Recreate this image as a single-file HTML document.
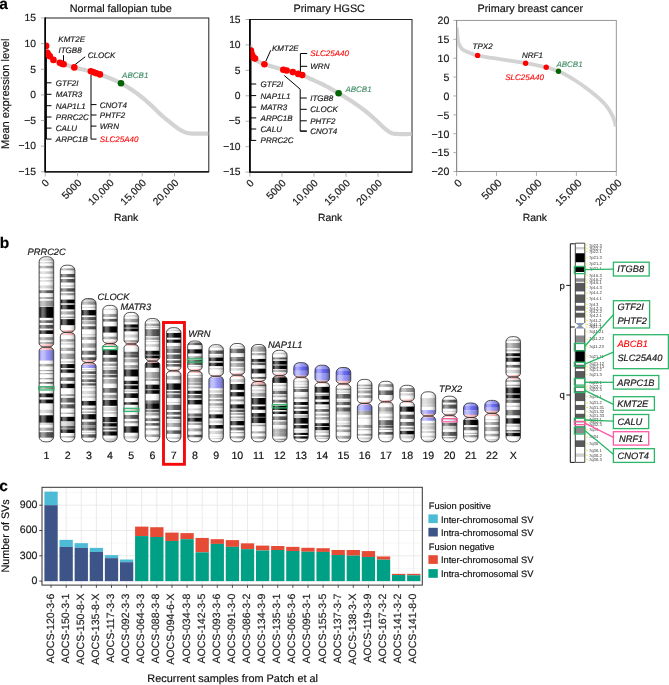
<!DOCTYPE html>
<html><head><meta charset="utf-8"><title>Figure</title>
<style>
html,body{margin:0;padding:0;background:#fff;}
body{width:669px;height:685px;overflow:hidden;}
svg{display:block;text-rendering:geometricPrecision;font-family:"Liberation Sans", Arial, Helvetica, sans-serif;}
</style></head><body>
<svg width="669" height="685" viewBox="0 0 669 685">
<text x="-0.70" y="9.00" text-anchor="start" fill="#000" stroke="#000" style="font-size:15.5px;font-weight:bold;stroke-width:0.18px">a</text>
<text x="-0.30" y="248.10" text-anchor="start" fill="#000" stroke="#000" style="font-size:15.5px;font-weight:bold;stroke-width:0.18px">b</text>
<text x="-0.70" y="490.90" text-anchor="start" fill="#000" stroke="#000" style="font-size:15.5px;font-weight:bold;stroke-width:0.18px">c</text>
<g id="p1">
<rect x="45.20" y="18.00" width="163.60" height="153.80" fill="none" stroke="#222" stroke-width="1.0"/>
<line x1="45.20" y1="17.50" x2="45.20" y2="172.30" stroke="#000" stroke-width="1.2"/>
<line x1="44.70" y1="171.80" x2="208.80" y2="171.80" stroke="#000" stroke-width="1.2"/>
<line x1="40.90" y1="171.80" x2="44.60" y2="171.80" stroke="#b0b0b0" stroke-width="1"/>
<text x="35.90" y="175.05" text-anchor="end" fill="#1a1a1a" stroke="#1a1a1a" style="font-size:10.3px;stroke-width:0.18px">−15</text>
<line x1="40.90" y1="146.17" x2="44.60" y2="146.17" stroke="#b0b0b0" stroke-width="1"/>
<text x="35.90" y="149.42" text-anchor="end" fill="#1a1a1a" stroke="#1a1a1a" style="font-size:10.3px;stroke-width:0.18px">−10</text>
<line x1="40.90" y1="120.53" x2="44.60" y2="120.53" stroke="#b0b0b0" stroke-width="1"/>
<text x="35.90" y="123.78" text-anchor="end" fill="#1a1a1a" stroke="#1a1a1a" style="font-size:10.3px;stroke-width:0.18px">−5</text>
<line x1="40.90" y1="94.90" x2="44.60" y2="94.90" stroke="#b0b0b0" stroke-width="1"/>
<text x="35.90" y="98.15" text-anchor="end" fill="#1a1a1a" stroke="#1a1a1a" style="font-size:10.3px;stroke-width:0.18px">0</text>
<line x1="40.90" y1="69.27" x2="44.60" y2="69.27" stroke="#b0b0b0" stroke-width="1"/>
<text x="35.90" y="72.52" text-anchor="end" fill="#1a1a1a" stroke="#1a1a1a" style="font-size:10.3px;stroke-width:0.18px">5</text>
<line x1="40.90" y1="43.63" x2="44.60" y2="43.63" stroke="#b0b0b0" stroke-width="1"/>
<text x="35.90" y="46.88" text-anchor="end" fill="#1a1a1a" stroke="#1a1a1a" style="font-size:10.3px;stroke-width:0.18px">10</text>
<line x1="40.90" y1="18.00" x2="44.60" y2="18.00" stroke="#b0b0b0" stroke-width="1"/>
<text x="35.90" y="21.25" text-anchor="end" fill="#1a1a1a" stroke="#1a1a1a" style="font-size:10.3px;stroke-width:0.18px">15</text>
<line x1="45.20" y1="172.40" x2="45.20" y2="176.40" stroke="#b0b0b0" stroke-width="1"/>
<text x="49.90" y="183.50" text-anchor="end" fill="#1a1a1a" stroke="#1a1a1a" style="font-size:10.3px;stroke-width:0.18px" transform="rotate(-45 49.90 183.50)">0</text>
<line x1="77.53" y1="172.40" x2="77.53" y2="176.40" stroke="#b0b0b0" stroke-width="1"/>
<text x="82.23" y="183.50" text-anchor="end" fill="#1a1a1a" stroke="#1a1a1a" style="font-size:10.3px;stroke-width:0.18px" transform="rotate(-45 82.23 183.50)">5000</text>
<line x1="109.86" y1="172.40" x2="109.86" y2="176.40" stroke="#b0b0b0" stroke-width="1"/>
<text x="114.56" y="183.50" text-anchor="end" fill="#1a1a1a" stroke="#1a1a1a" style="font-size:10.3px;stroke-width:0.18px" transform="rotate(-45 114.56 183.50)">10,000</text>
<line x1="142.20" y1="172.40" x2="142.20" y2="176.40" stroke="#b0b0b0" stroke-width="1"/>
<text x="146.90" y="183.50" text-anchor="end" fill="#1a1a1a" stroke="#1a1a1a" style="font-size:10.3px;stroke-width:0.18px" transform="rotate(-45 146.90 183.50)">15,000</text>
<line x1="174.53" y1="172.40" x2="174.53" y2="176.40" stroke="#b0b0b0" stroke-width="1"/>
<text x="179.23" y="183.50" text-anchor="end" fill="#1a1a1a" stroke="#1a1a1a" style="font-size:10.3px;stroke-width:0.18px" transform="rotate(-45 179.23 183.50)">20,000</text>
<text x="120.80" y="12.20" text-anchor="middle" fill="#111" stroke="#111" style="font-size:10.8px;stroke-width:0.18px">Normal fallopian tube</text>
<text x="126.10" y="220.90" text-anchor="middle" fill="#111" stroke="#111" style="font-size:10.4px;stroke-width:0.18px">Rank</text>
<clipPath id="c1"><rect x="45.20" y="18.00" width="163.60" height="153.80"/></clipPath>
<text x="9.50" y="93.80" text-anchor="middle" fill="#111" stroke="#111" style="font-size:11.1px;stroke-width:0.18px" transform="rotate(-90 9.50 93.80)">Mean expression level</text>
<g clip-path="url(#c1)">
<path d="M45.60,43.50 L45.64,43.84 L45.69,44.29 L45.75,44.81 L45.82,45.41 L45.90,46.04 L45.99,46.70 L46.09,47.36 L46.20,48.00 L46.32,48.65 L46.45,49.35 L46.58,50.08 L46.73,50.81 L46.89,51.54 L47.07,52.24 L47.28,52.90 L47.50,53.50 L47.74,54.03 L48.01,54.52 L48.28,54.97 L48.58,55.39 L48.90,55.79 L49.24,56.19 L49.61,56.59 L50.00,57.00 L50.41,57.43 L50.85,57.86 L51.30,58.28 L51.78,58.71 L52.29,59.12 L52.82,59.53 L53.39,59.92 L54.00,60.30 L54.65,60.66 L55.36,61.01 L56.10,61.35 L56.88,61.68 L57.66,62.00 L58.45,62.31 L59.24,62.61 L60.00,62.90 L60.73,63.18 L61.45,63.43 L62.15,63.67 L62.86,63.91 L63.58,64.14 L64.34,64.38 L65.14,64.63 L66.00,64.90 L66.92,65.19 L67.88,65.49 L68.88,65.81 L69.92,66.13 L70.98,66.45 L72.07,66.77 L73.18,67.09 L74.30,67.40 L75.46,67.71 L76.69,68.02 L77.95,68.34 L79.23,68.65 L80.50,68.96 L81.73,69.25 L82.91,69.53 L84.00,69.80 L84.99,70.04 L85.89,70.24 L86.73,70.43 L87.54,70.61 L88.35,70.79 L89.17,70.99 L90.05,71.23 L91.00,71.50 L92.02,71.82 L93.09,72.16 L94.18,72.54 L95.31,72.93 L96.46,73.34 L97.63,73.76 L98.81,74.18 L100.00,74.60 L101.20,75.02 L102.41,75.43 L103.63,75.84 L104.88,76.27 L106.13,76.71 L107.41,77.18 L108.70,77.67 L110.00,78.20 L111.31,78.75 L112.63,79.32 L113.96,79.91 L115.30,80.53 L116.67,81.17 L118.07,81.87 L119.51,82.61 L121.00,83.40 L122.54,84.24 L124.12,85.12 L125.74,86.05 L127.40,87.01 L129.08,88.03 L130.78,89.10 L132.49,90.22 L134.20,91.40 L135.93,92.65 L137.68,93.96 L139.45,95.34 L141.24,96.76 L143.03,98.23 L144.83,99.73 L146.62,101.26 L148.40,102.80 L150.18,104.39 L151.95,106.06 L153.72,107.77 L155.50,109.50 L157.28,111.23 L159.05,112.94 L160.83,114.61 L162.60,116.20 L164.42,117.77 L166.31,119.36 L168.23,120.94 L170.14,122.48 L171.99,123.94 L173.74,125.30 L175.36,126.53 L176.80,127.60 L178.05,128.49 L179.14,129.22 L180.11,129.82 L180.98,130.32 L181.77,130.74 L182.52,131.11 L183.25,131.45 L184.00,131.80 L184.72,132.12 L185.38,132.39 L185.99,132.61 L186.57,132.79 L187.15,132.94 L187.73,133.07 L188.34,133.19 L189.00,133.30 L189.65,133.40 L190.26,133.47 L190.86,133.51 L191.48,133.54 L192.17,133.56 L192.96,133.57 L193.89,133.59 L195.00,133.60 L196.40,133.61 L198.12,133.62 L200.04,133.62 L202.03,133.62 L203.97,133.61 L205.74,133.61 L207.22,133.60 L208.30,133.60" stroke="#d3d3d3" stroke-width="4.2" fill="none" stroke-linejoin="round" stroke-linecap="butt"/>
<polyline points="46.20,50.00 46.20,139.10" stroke="#000" stroke-width="1.4" fill="none"/>
<line x1="46.20" y1="82.80" x2="51.50" y2="82.80" stroke="#000" stroke-width="1.0"/>
<line x1="46.20" y1="94.30" x2="51.50" y2="94.30" stroke="#000" stroke-width="1.0"/>
<line x1="46.20" y1="105.70" x2="51.50" y2="105.70" stroke="#000" stroke-width="1.0"/>
<line x1="46.20" y1="117.00" x2="51.50" y2="117.00" stroke="#000" stroke-width="1.0"/>
<line x1="46.20" y1="128.10" x2="51.50" y2="128.10" stroke="#000" stroke-width="1.0"/>
<line x1="46.20" y1="139.10" x2="51.50" y2="139.10" stroke="#000" stroke-width="1.0"/>
<text x="55.80" y="85.70" text-anchor="start" fill="#1a1a1a" stroke="#1a1a1a" style="font-size:8.0px;font-style:italic;stroke-width:0.18px">GTF2I</text>
<text x="55.80" y="97.20" text-anchor="start" fill="#1a1a1a" stroke="#1a1a1a" style="font-size:8.0px;font-style:italic;stroke-width:0.18px">MATR3</text>
<text x="55.80" y="108.60" text-anchor="start" fill="#1a1a1a" stroke="#1a1a1a" style="font-size:8.0px;font-style:italic;stroke-width:0.18px">NAP1L1</text>
<text x="55.80" y="119.90" text-anchor="start" fill="#1a1a1a" stroke="#1a1a1a" style="font-size:8.0px;font-style:italic;stroke-width:0.18px">PRRC2C</text>
<text x="55.80" y="131.00" text-anchor="start" fill="#1a1a1a" stroke="#1a1a1a" style="font-size:8.0px;font-style:italic;stroke-width:0.18px">CALU</text>
<text x="55.80" y="142.00" text-anchor="start" fill="#1a1a1a" stroke="#1a1a1a" style="font-size:8.0px;font-style:italic;stroke-width:0.18px">ARPC1B</text>
<polyline points="91.00,75.00 91.00,139.10 96.50,139.10" stroke="#000" stroke-width="1.0" fill="none"/>
<line x1="91.00" y1="104.60" x2="96.50" y2="104.60" stroke="#000" stroke-width="1.0"/>
<line x1="91.00" y1="115.00" x2="96.50" y2="115.00" stroke="#000" stroke-width="1.0"/>
<line x1="91.00" y1="126.10" x2="96.50" y2="126.10" stroke="#000" stroke-width="1.0"/>
<text x="99.80" y="107.50" text-anchor="start" fill="#1a1a1a" stroke="#1a1a1a" style="font-size:8.0px;font-style:italic;stroke-width:0.18px">CNOT4</text>
<text x="99.80" y="117.90" text-anchor="start" fill="#1a1a1a" stroke="#1a1a1a" style="font-size:8.0px;font-style:italic;stroke-width:0.18px">PHTF2</text>
<text x="99.80" y="129.00" text-anchor="start" fill="#1a1a1a" stroke="#1a1a1a" style="font-size:8.0px;font-style:italic;stroke-width:0.18px">WRN</text>
<text x="99.80" y="142.00" text-anchor="start" fill="#ff0000" stroke="#ff0000" style="font-size:8.0px;font-style:italic;stroke-width:0.1px">SLC25A40</text>
<line x1="63.50" y1="55.20" x2="63.50" y2="61.50" stroke="#000" stroke-width="1.0"/>
<line x1="85.20" y1="56.80" x2="73.80" y2="65.60" stroke="#000" stroke-width="1.0"/>
<text x="58.30" y="41.90" text-anchor="start" fill="#1a1a1a" stroke="#1a1a1a" style="font-size:8.0px;font-style:italic;stroke-width:0.18px">KMT2E</text>
<text x="58.50" y="52.50" text-anchor="start" fill="#1a1a1a" stroke="#1a1a1a" style="font-size:8.0px;font-style:italic;stroke-width:0.18px">ITGB8</text>
<text x="87.80" y="57.70" text-anchor="start" fill="#1a1a1a" stroke="#1a1a1a" style="font-size:8.0px;font-style:italic;stroke-width:0.18px">CLOCK</text>
<circle cx="46.10" cy="45.90" r="3.3" fill="#ff0000"/>
<circle cx="47.30" cy="52.90" r="3.3" fill="#ff0000"/>
<circle cx="48.40" cy="54.80" r="3.3" fill="#ff0000"/>
<circle cx="49.80" cy="56.20" r="3.3" fill="#ff0000"/>
<circle cx="53.40" cy="59.90" r="3.3" fill="#ff0000"/>
<circle cx="59.90" cy="62.70" r="3.3" fill="#ff0000"/>
<circle cx="62.00" cy="63.70" r="3.3" fill="#ff0000"/>
<circle cx="63.60" cy="64.30" r="3.3" fill="#ff0000"/>
<circle cx="74.30" cy="67.40" r="3.3" fill="#ff0000"/>
<circle cx="90.90" cy="71.30" r="3.3" fill="#ff0000"/>
<circle cx="93.60" cy="72.20" r="3.3" fill="#ff0000"/>
<circle cx="96.40" cy="73.20" r="3.3" fill="#ff0000"/>
<circle cx="99.90" cy="74.40" r="3.3" fill="#ff0000"/>
<circle cx="121.00" cy="83.30" r="3.3" fill="#006400"/>
<text x="122.10" y="77.80" text-anchor="start" fill="#3d8b63" stroke="#3d8b63" style="font-size:8.0px;font-style:italic;stroke-width:0.1px">ABCB1</text>
</g>
<line x1="45.20" y1="17.50" x2="45.20" y2="172.30" stroke="#000" stroke-width="1.2"/>
</g>
<g id="p2">
<rect x="249.90" y="19.50" width="162.10" height="152.60" fill="none" stroke="#222" stroke-width="1.0"/>
<line x1="249.90" y1="19.00" x2="249.90" y2="172.60" stroke="#000" stroke-width="1.2"/>
<line x1="249.40" y1="172.10" x2="412.00" y2="172.10" stroke="#000" stroke-width="1.2"/>
<line x1="245.60" y1="172.10" x2="249.30" y2="172.10" stroke="#b0b0b0" stroke-width="1"/>
<text x="240.60" y="175.35" text-anchor="end" fill="#1a1a1a" stroke="#1a1a1a" style="font-size:10.3px;stroke-width:0.18px">−15</text>
<line x1="245.60" y1="146.67" x2="249.30" y2="146.67" stroke="#b0b0b0" stroke-width="1"/>
<text x="240.60" y="149.92" text-anchor="end" fill="#1a1a1a" stroke="#1a1a1a" style="font-size:10.3px;stroke-width:0.18px">−10</text>
<line x1="245.60" y1="121.23" x2="249.30" y2="121.23" stroke="#b0b0b0" stroke-width="1"/>
<text x="240.60" y="124.48" text-anchor="end" fill="#1a1a1a" stroke="#1a1a1a" style="font-size:10.3px;stroke-width:0.18px">−5</text>
<line x1="245.60" y1="95.80" x2="249.30" y2="95.80" stroke="#b0b0b0" stroke-width="1"/>
<text x="240.60" y="99.05" text-anchor="end" fill="#1a1a1a" stroke="#1a1a1a" style="font-size:10.3px;stroke-width:0.18px">0</text>
<line x1="245.60" y1="70.37" x2="249.30" y2="70.37" stroke="#b0b0b0" stroke-width="1"/>
<text x="240.60" y="73.62" text-anchor="end" fill="#1a1a1a" stroke="#1a1a1a" style="font-size:10.3px;stroke-width:0.18px">5</text>
<line x1="245.60" y1="44.93" x2="249.30" y2="44.93" stroke="#b0b0b0" stroke-width="1"/>
<text x="240.60" y="48.18" text-anchor="end" fill="#1a1a1a" stroke="#1a1a1a" style="font-size:10.3px;stroke-width:0.18px">10</text>
<line x1="245.60" y1="19.50" x2="249.30" y2="19.50" stroke="#b0b0b0" stroke-width="1"/>
<text x="240.60" y="22.75" text-anchor="end" fill="#1a1a1a" stroke="#1a1a1a" style="font-size:10.3px;stroke-width:0.18px">15</text>
<line x1="249.90" y1="172.70" x2="249.90" y2="176.70" stroke="#b0b0b0" stroke-width="1"/>
<text x="254.60" y="183.80" text-anchor="end" fill="#1a1a1a" stroke="#1a1a1a" style="font-size:10.3px;stroke-width:0.18px" transform="rotate(-45 254.60 183.80)">0</text>
<line x1="281.94" y1="172.70" x2="281.94" y2="176.70" stroke="#b0b0b0" stroke-width="1"/>
<text x="286.64" y="183.80" text-anchor="end" fill="#1a1a1a" stroke="#1a1a1a" style="font-size:10.3px;stroke-width:0.18px" transform="rotate(-45 286.64 183.80)">5000</text>
<line x1="313.97" y1="172.70" x2="313.97" y2="176.70" stroke="#b0b0b0" stroke-width="1"/>
<text x="318.67" y="183.80" text-anchor="end" fill="#1a1a1a" stroke="#1a1a1a" style="font-size:10.3px;stroke-width:0.18px" transform="rotate(-45 318.67 183.80)">10,000</text>
<line x1="346.01" y1="172.70" x2="346.01" y2="176.70" stroke="#b0b0b0" stroke-width="1"/>
<text x="350.71" y="183.80" text-anchor="end" fill="#1a1a1a" stroke="#1a1a1a" style="font-size:10.3px;stroke-width:0.18px" transform="rotate(-45 350.71 183.80)">15,000</text>
<line x1="378.04" y1="172.70" x2="378.04" y2="176.70" stroke="#b0b0b0" stroke-width="1"/>
<text x="382.74" y="183.80" text-anchor="end" fill="#1a1a1a" stroke="#1a1a1a" style="font-size:10.3px;stroke-width:0.18px" transform="rotate(-45 382.74 183.80)">20,000</text>
<text x="329.20" y="12.20" text-anchor="middle" fill="#111" stroke="#111" style="font-size:10.8px;stroke-width:0.18px">Primary HGSC</text>
<text x="330.05" y="220.90" text-anchor="middle" fill="#111" stroke="#111" style="font-size:10.4px;stroke-width:0.18px">Rank</text>
<clipPath id="c2"><rect x="249.90" y="19.50" width="162.10" height="152.60"/></clipPath>
<g clip-path="url(#c2)">
<path d="M250.30,45.00 L250.33,45.39 L250.37,45.90 L250.42,46.51 L250.48,47.19 L250.54,47.91 L250.61,48.63 L250.70,49.34 L250.80,50.00 L250.91,50.63 L251.02,51.28 L251.14,51.93 L251.28,52.57 L251.42,53.21 L251.59,53.83 L251.78,54.43 L252.00,55.00 L252.24,55.54 L252.51,56.06 L252.80,56.57 L253.11,57.06 L253.43,57.52 L253.77,57.97 L254.13,58.40 L254.50,58.80 L254.87,59.17 L255.24,59.51 L255.61,59.82 L256.01,60.11 L256.43,60.39 L256.90,60.68 L257.42,60.98 L258.00,61.30 L258.64,61.64 L259.32,62.00 L260.05,62.36 L260.82,62.72 L261.64,63.09 L262.51,63.47 L263.43,63.83 L264.40,64.20 L265.45,64.56 L266.58,64.93 L267.77,65.30 L269.01,65.66 L270.27,66.03 L271.53,66.39 L272.78,66.75 L274.00,67.10 L275.19,67.45 L276.38,67.80 L277.57,68.14 L278.76,68.48 L279.94,68.82 L281.13,69.15 L282.31,69.48 L283.50,69.80 L284.69,70.11 L285.88,70.41 L287.08,70.70 L288.27,70.99 L289.46,71.28 L290.65,71.57 L291.83,71.88 L293.00,72.20 L294.16,72.53 L295.31,72.85 L296.45,73.18 L297.58,73.53 L298.72,73.88 L299.86,74.26 L301.02,74.66 L302.20,75.10 L303.37,75.57 L304.53,76.05 L305.69,76.57 L306.86,77.10 L308.06,77.66 L309.31,78.25 L310.62,78.86 L312.00,79.50 L313.47,80.17 L315.01,80.87 L316.61,81.59 L318.26,82.34 L319.94,83.12 L321.63,83.92 L323.32,84.75 L325.00,85.60 L326.69,86.49 L328.41,87.43 L330.15,88.41 L331.90,89.40 L333.63,90.40 L335.34,91.39 L337.00,92.36 L338.60,93.30 L340.13,94.20 L341.62,95.07 L343.06,95.92 L344.48,96.77 L345.87,97.61 L347.24,98.46 L348.62,99.32 L350.00,100.20 L351.40,101.11 L352.83,102.06 L354.25,103.02 L355.66,103.98 L357.04,104.93 L358.37,105.86 L359.63,106.76 L360.80,107.60 L361.87,108.38 L362.83,109.09 L363.73,109.77 L364.58,110.42 L365.40,111.08 L366.23,111.74 L367.09,112.45 L368.00,113.20 L368.98,114.02 L369.99,114.88 L371.03,115.78 L372.07,116.69 L373.11,117.60 L374.12,118.50 L375.09,119.37 L376.00,120.20 L376.85,120.99 L377.66,121.77 L378.44,122.53 L379.19,123.28 L379.91,123.99 L380.62,124.69 L381.31,125.36 L382.00,126.00 L382.67,126.61 L383.32,127.19 L383.95,127.74 L384.56,128.28 L385.17,128.78 L385.77,129.27 L386.38,129.74 L387.00,130.20 L387.62,130.65 L388.23,131.09 L388.83,131.51 L389.44,131.91 L390.05,132.29 L390.68,132.63 L391.33,132.94 L392.00,133.20 L392.65,133.41 L393.25,133.57 L393.85,133.70 L394.47,133.79 L395.16,133.86 L395.95,133.91 L396.88,133.95 L398.00,134.00 L399.42,134.04 L401.16,134.06 L403.11,134.06 L405.12,134.05 L407.10,134.04 L408.90,134.02 L410.41,134.01 L411.50,134.00" stroke="#d3d3d3" stroke-width="4.2" fill="none" stroke-linejoin="round" stroke-linecap="butt"/>
<polyline points="250.80,50.00 250.80,140.40" stroke="#000" stroke-width="1.4" fill="none"/>
<line x1="250.80" y1="84.00" x2="256.20" y2="84.00" stroke="#000" stroke-width="1.0"/>
<text x="260.60" y="86.90" text-anchor="start" fill="#1a1a1a" stroke="#1a1a1a" style="font-size:8.0px;font-style:italic;stroke-width:0.18px">GTF2I</text>
<line x1="250.80" y1="95.60" x2="256.20" y2="95.60" stroke="#000" stroke-width="1.0"/>
<text x="260.60" y="98.50" text-anchor="start" fill="#1a1a1a" stroke="#1a1a1a" style="font-size:8.0px;font-style:italic;stroke-width:0.18px">NAP1L1</text>
<line x1="250.80" y1="107.10" x2="256.20" y2="107.10" stroke="#000" stroke-width="1.0"/>
<text x="260.60" y="110.00" text-anchor="start" fill="#1a1a1a" stroke="#1a1a1a" style="font-size:8.0px;font-style:italic;stroke-width:0.18px">MATR3</text>
<line x1="250.80" y1="117.90" x2="256.20" y2="117.90" stroke="#000" stroke-width="1.0"/>
<text x="260.60" y="120.80" text-anchor="start" fill="#1a1a1a" stroke="#1a1a1a" style="font-size:8.0px;font-style:italic;stroke-width:0.18px">ARPC1B</text>
<line x1="250.80" y1="129.00" x2="256.20" y2="129.00" stroke="#000" stroke-width="1.0"/>
<text x="260.60" y="131.90" text-anchor="start" fill="#1a1a1a" stroke="#1a1a1a" style="font-size:8.0px;font-style:italic;stroke-width:0.18px">CALU</text>
<line x1="250.80" y1="140.40" x2="256.20" y2="140.40" stroke="#000" stroke-width="1.0"/>
<text x="260.60" y="143.30" text-anchor="start" fill="#1a1a1a" stroke="#1a1a1a" style="font-size:8.0px;font-style:italic;stroke-width:0.18px">PRRC2C</text>
<polyline points="307.20,53.50 300.40,53.50 300.40,73.00" stroke="#000" stroke-width="1.0" fill="none"/>
<line x1="300.40" y1="66.30" x2="307.20" y2="66.30" stroke="#000" stroke-width="1.0"/>
<text x="310.30" y="56.40" text-anchor="start" fill="#ff0000" stroke="#ff0000" style="font-size:8.0px;font-style:italic;stroke-width:0.1px">SLC25A40</text>
<text x="310.30" y="69.20" text-anchor="start" fill="#1a1a1a" stroke="#1a1a1a" style="font-size:8.0px;font-style:italic;stroke-width:0.18px">WRN</text>
<polyline points="284.30,75.50 300.20,89.20 300.20,131.10 306.80,131.10" stroke="#000" stroke-width="1.0" fill="none"/>
<line x1="300.20" y1="98.00" x2="306.80" y2="98.00" stroke="#000" stroke-width="1.0"/>
<text x="310.20" y="100.90" text-anchor="start" fill="#1a1a1a" stroke="#1a1a1a" style="font-size:8.0px;font-style:italic;stroke-width:0.18px">ITGB8</text>
<line x1="300.20" y1="109.30" x2="306.80" y2="109.30" stroke="#000" stroke-width="1.0"/>
<text x="310.20" y="112.20" text-anchor="start" fill="#1a1a1a" stroke="#1a1a1a" style="font-size:8.0px;font-style:italic;stroke-width:0.18px">CLOCK</text>
<line x1="300.20" y1="120.80" x2="306.80" y2="120.80" stroke="#000" stroke-width="1.0"/>
<text x="310.20" y="123.70" text-anchor="start" fill="#1a1a1a" stroke="#1a1a1a" style="font-size:8.0px;font-style:italic;stroke-width:0.18px">PHTF2</text>
<line x1="300.20" y1="131.10" x2="306.80" y2="131.10" stroke="#000" stroke-width="1.0"/>
<text x="310.20" y="134.00" text-anchor="start" fill="#1a1a1a" stroke="#1a1a1a" style="font-size:8.0px;font-style:italic;stroke-width:0.18px">CNOT4</text>
<line x1="270.80" y1="50.20" x2="265.90" y2="61.00" stroke="#000" stroke-width="1.0"/>
<text x="272.00" y="51.10" text-anchor="start" fill="#1a1a1a" stroke="#1a1a1a" style="font-size:8.0px;font-style:italic;stroke-width:0.18px">KMT2E</text>
<circle cx="250.90" cy="50.60" r="3.3" fill="#ff0000"/>
<circle cx="251.60" cy="53.80" r="3.3" fill="#ff0000"/>
<circle cx="252.40" cy="55.70" r="3.3" fill="#ff0000"/>
<circle cx="253.60" cy="57.60" r="3.3" fill="#ff0000"/>
<circle cx="255.00" cy="58.60" r="3.3" fill="#ff0000"/>
<circle cx="264.40" cy="64.30" r="3.3" fill="#ff0000"/>
<circle cx="283.30" cy="69.70" r="3.3" fill="#ff0000"/>
<circle cx="286.60" cy="70.50" r="3.3" fill="#ff0000"/>
<circle cx="292.80" cy="72.10" r="3.3" fill="#ff0000"/>
<circle cx="298.20" cy="73.90" r="3.3" fill="#ff0000"/>
<circle cx="302.20" cy="75.10" r="3.3" fill="#ff0000"/>
<circle cx="338.60" cy="93.30" r="3.3" fill="#006400"/>
<text x="345.40" y="92.40" text-anchor="start" fill="#3d8b63" stroke="#3d8b63" style="font-size:8.0px;font-style:italic;stroke-width:0.1px">ABCB1</text>
</g>
<line x1="249.90" y1="19.00" x2="249.90" y2="172.60" stroke="#000" stroke-width="1.2"/>
</g>
<g id="p3">
<rect x="456.60" y="20.40" width="159.70" height="151.10" fill="none" stroke="#8c8c8c" stroke-width="0.9"/>
<line x1="456.60" y1="19.90" x2="456.60" y2="172.00" stroke="#8c8c8c" stroke-width="0.9"/>
<line x1="456.10" y1="171.50" x2="616.30" y2="171.50" stroke="#8c8c8c" stroke-width="0.9"/>
<line x1="453.30" y1="171.50" x2="456.00" y2="171.50" stroke="#b0b0b0" stroke-width="1"/>
<text x="449.40" y="175.30" text-anchor="end" fill="#1a1a1a" stroke="#1a1a1a" style="font-size:10.6px;stroke-width:0.18px">−20</text>
<line x1="453.30" y1="152.61" x2="456.00" y2="152.61" stroke="#b0b0b0" stroke-width="1"/>
<text x="449.40" y="156.41" text-anchor="end" fill="#1a1a1a" stroke="#1a1a1a" style="font-size:10.6px;stroke-width:0.18px">−15</text>
<line x1="453.30" y1="133.72" x2="456.00" y2="133.72" stroke="#b0b0b0" stroke-width="1"/>
<text x="449.40" y="137.53" text-anchor="end" fill="#1a1a1a" stroke="#1a1a1a" style="font-size:10.6px;stroke-width:0.18px">−10</text>
<line x1="453.30" y1="114.84" x2="456.00" y2="114.84" stroke="#b0b0b0" stroke-width="1"/>
<text x="449.40" y="118.64" text-anchor="end" fill="#1a1a1a" stroke="#1a1a1a" style="font-size:10.6px;stroke-width:0.18px">−5</text>
<line x1="453.30" y1="95.95" x2="456.00" y2="95.95" stroke="#b0b0b0" stroke-width="1"/>
<text x="449.40" y="99.75" text-anchor="end" fill="#1a1a1a" stroke="#1a1a1a" style="font-size:10.6px;stroke-width:0.18px">0</text>
<line x1="453.30" y1="77.06" x2="456.00" y2="77.06" stroke="#b0b0b0" stroke-width="1"/>
<text x="449.40" y="80.86" text-anchor="end" fill="#1a1a1a" stroke="#1a1a1a" style="font-size:10.6px;stroke-width:0.18px">5</text>
<line x1="453.30" y1="58.18" x2="456.00" y2="58.18" stroke="#b0b0b0" stroke-width="1"/>
<text x="449.40" y="61.98" text-anchor="end" fill="#1a1a1a" stroke="#1a1a1a" style="font-size:10.6px;stroke-width:0.18px">10</text>
<line x1="453.30" y1="39.29" x2="456.00" y2="39.29" stroke="#b0b0b0" stroke-width="1"/>
<text x="449.40" y="43.09" text-anchor="end" fill="#1a1a1a" stroke="#1a1a1a" style="font-size:10.6px;stroke-width:0.18px">15</text>
<line x1="453.30" y1="20.40" x2="456.00" y2="20.40" stroke="#b0b0b0" stroke-width="1"/>
<text x="449.40" y="24.20" text-anchor="end" fill="#1a1a1a" stroke="#1a1a1a" style="font-size:10.6px;stroke-width:0.18px">20</text>
<line x1="456.60" y1="172.10" x2="456.60" y2="176.10" stroke="#b0b0b0" stroke-width="1"/>
<text x="462.60" y="183.50" text-anchor="end" fill="#1a1a1a" stroke="#1a1a1a" style="font-size:10.6px;stroke-width:0.18px" transform="rotate(-45 462.60 183.50)">0</text>
<line x1="496.52" y1="172.10" x2="496.52" y2="176.10" stroke="#b0b0b0" stroke-width="1"/>
<text x="502.52" y="183.50" text-anchor="end" fill="#1a1a1a" stroke="#1a1a1a" style="font-size:10.6px;stroke-width:0.18px" transform="rotate(-45 502.52 183.50)">5000</text>
<line x1="536.45" y1="172.10" x2="536.45" y2="176.10" stroke="#b0b0b0" stroke-width="1"/>
<text x="542.45" y="183.50" text-anchor="end" fill="#1a1a1a" stroke="#1a1a1a" style="font-size:10.6px;stroke-width:0.18px" transform="rotate(-45 542.45 183.50)">10,000</text>
<line x1="576.38" y1="172.10" x2="576.38" y2="176.10" stroke="#b0b0b0" stroke-width="1"/>
<text x="582.38" y="183.50" text-anchor="end" fill="#1a1a1a" stroke="#1a1a1a" style="font-size:10.6px;stroke-width:0.18px" transform="rotate(-45 582.38 183.50)">15,000</text>
<line x1="616.30" y1="172.10" x2="616.30" y2="176.10" stroke="#b0b0b0" stroke-width="1"/>
<text x="622.30" y="183.50" text-anchor="end" fill="#1a1a1a" stroke="#1a1a1a" style="font-size:10.6px;stroke-width:0.18px" transform="rotate(-45 622.30 183.50)">20,000</text>
<text x="530.30" y="12.20" text-anchor="middle" fill="#111" stroke="#111" style="font-size:10.8px;stroke-width:0.18px">Primary breast cancer</text>
<text x="534.95" y="220.90" text-anchor="middle" fill="#111" stroke="#111" style="font-size:10.4px;stroke-width:0.18px">Rank</text>
<clipPath id="c3"><rect x="456.60" y="20.40" width="159.70" height="151.10"/></clipPath>
<g clip-path="url(#c3)">
<path d="M456.60,27.50 L456.65,27.92 L456.71,28.48 L456.78,29.14 L456.86,29.88 L456.95,30.66 L457.04,31.46 L457.12,32.25 L457.20,33.00 L457.27,33.73 L457.34,34.49 L457.40,35.26 L457.46,36.03 L457.53,36.80 L457.61,37.56 L457.70,38.29 L457.80,39.00 L457.91,39.68 L458.03,40.34 L458.15,40.98 L458.28,41.61 L458.43,42.22 L458.59,42.82 L458.78,43.42 L459.00,44.00 L459.24,44.58 L459.49,45.15 L459.75,45.72 L460.04,46.27 L460.36,46.81 L460.70,47.33 L461.08,47.83 L461.50,48.30 L461.92,48.73 L462.32,49.12 L462.73,49.47 L463.18,49.81 L463.70,50.15 L464.33,50.50 L465.08,50.88 L466.00,51.30 L467.04,51.76 L468.15,52.25 L469.36,52.77 L470.68,53.30 L472.15,53.84 L473.77,54.37 L475.58,54.89 L477.60,55.40 L479.86,55.89 L482.37,56.37 L485.07,56.84 L487.93,57.31 L490.89,57.77 L493.92,58.24 L496.97,58.72 L500.00,59.20 L503.08,59.69 L506.29,60.18 L509.59,60.68 L512.91,61.18 L516.23,61.68 L519.48,62.19 L522.62,62.69 L525.60,63.20 L528.47,63.71 L531.30,64.22 L534.06,64.73 L536.73,65.25 L539.30,65.77 L541.75,66.28 L544.06,66.79 L546.20,67.30 L548.14,67.79 L549.88,68.26 L551.46,68.72 L552.92,69.19 L554.31,69.67 L555.68,70.17 L557.06,70.71 L558.50,71.30 L559.97,71.93 L561.42,72.60 L562.85,73.29 L564.27,74.01 L565.69,74.76 L567.11,75.55 L568.54,76.36 L570.00,77.20 L571.49,78.09 L573.01,79.02 L574.55,80.00 L576.09,81.00 L577.62,82.01 L579.13,83.03 L580.59,84.03 L582.00,85.00 L583.36,85.95 L584.67,86.90 L585.96,87.84 L587.21,88.78 L588.44,89.72 L589.65,90.65 L590.83,91.57 L592.00,92.50 L593.16,93.43 L594.31,94.36 L595.45,95.29 L596.56,96.22 L597.63,97.14 L598.67,98.04 L599.66,98.93 L600.60,99.80 L601.48,100.64 L602.30,101.45 L603.07,102.25 L603.81,103.03 L604.51,103.81 L605.19,104.59 L605.85,105.39 L606.50,106.20 L607.14,107.03 L607.75,107.87 L608.35,108.71 L608.92,109.56 L609.47,110.42 L610.00,111.28 L610.51,112.14 L611.00,113.00 L611.47,113.87 L611.93,114.75 L612.37,115.63 L612.78,116.52 L613.17,117.40 L613.54,118.28 L613.89,119.15 L614.20,120.00 L614.49,120.88 L614.75,121.81 L614.99,122.76 L615.20,123.69 L615.39,124.56 L615.55,125.34 L615.69,126.00 L615.80,126.50" stroke="#d3d3d3" stroke-width="3.8" fill="none" stroke-linejoin="round" stroke-linecap="butt"/>
<circle cx="477.60" cy="55.40" r="2.7" fill="#ff0000"/>
<circle cx="525.60" cy="63.20" r="2.7" fill="#ff0000"/>
<circle cx="546.20" cy="67.20" r="2.7" fill="#ff0000"/>
<circle cx="558.50" cy="71.30" r="2.7" fill="#006400"/>
<text x="472.60" y="49.00" text-anchor="start" fill="#1a1a1a" stroke="#1a1a1a" style="font-size:8.0px;font-style:italic;stroke-width:0.18px">TPX2</text>
<text x="522.00" y="57.70" text-anchor="start" fill="#1a1a1a" stroke="#1a1a1a" style="font-size:8.0px;font-style:italic;stroke-width:0.18px">NRF1</text>
<text x="505.20" y="79.70" text-anchor="start" fill="#ff0000" stroke="#ff0000" style="font-size:8.0px;font-style:italic;stroke-width:0.1px">SLC25A40</text>
<text x="556.40" y="66.50" text-anchor="start" fill="#3d8b63" stroke="#3d8b63" style="font-size:8.0px;font-style:italic;stroke-width:0.1px">ABCB1</text>
</g>
<line x1="456.60" y1="20.00" x2="456.60" y2="171.90" stroke="#8c8c8c" stroke-width="0.9"/>
</g>
<defs>
<linearGradient id="shade" x1="0" y1="0" x2="1" y2="0"><stop offset="0" stop-color="#000" stop-opacity="0.30"/><stop offset="0.07" stop-color="#fff" stop-opacity="0.12"/><stop offset="0.2" stop-color="#fff" stop-opacity="0.45"/><stop offset="0.36" stop-color="#fff" stop-opacity="0.38"/><stop offset="0.56" stop-color="#fff" stop-opacity="0.04"/><stop offset="0.76" stop-color="#000" stop-opacity="0.08"/><stop offset="0.9" stop-color="#000" stop-opacity="0.22"/><stop offset="1" stop-color="#000" stop-opacity="0.45"/></linearGradient>
<clipPath id="cp0"><path d="M39.10,261.80 C39.10,259.04 41.71,256.80 44.94,256.80 L47.86,256.80 C51.09,256.80 53.70,259.04 53.70,261.80 L53.70,343.50 C53.70,345.49 51.09,347.10 47.86,347.10 L44.94,347.10 C41.71,347.10 39.10,345.49 39.10,343.50 Z"/><path d="M39.10,350.70 C39.10,348.71 41.71,347.10 44.94,347.10 L47.86,347.10 C51.09,347.10 53.70,348.71 53.70,350.70 L53.70,436.80 C53.70,439.56 51.09,441.80 47.86,441.80 L44.94,441.80 C41.71,441.80 39.10,439.56 39.10,436.80 Z"/></clipPath>
<clipPath id="cp1"><path d="M60.32,270.20 C60.32,267.44 62.93,265.20 66.16,265.20 L69.08,265.20 C72.31,265.20 74.92,267.44 74.92,270.20 L74.92,328.70 C74.92,330.69 72.31,332.30 69.08,332.30 L66.16,332.30 C62.93,332.30 60.32,330.69 60.32,328.70 Z"/><path d="M60.32,335.90 C60.32,333.91 62.93,332.30 66.16,332.30 L69.08,332.30 C72.31,332.30 74.92,333.91 74.92,335.90 L74.92,436.80 C74.92,439.56 72.31,441.80 69.08,441.80 L66.16,441.80 C62.93,441.80 60.32,439.56 60.32,436.80 Z"/></clipPath>
<clipPath id="cp2"><path d="M81.54,303.50 C81.54,300.74 84.15,298.50 87.38,298.50 L90.30,298.50 C93.53,298.50 96.14,300.74 96.14,303.50 L96.14,359.00 C96.14,360.99 93.53,362.60 90.30,362.60 L87.38,362.60 C84.15,362.60 81.54,360.99 81.54,359.00 Z"/><path d="M81.54,366.20 C81.54,364.21 84.15,362.60 87.38,362.60 L90.30,362.60 C93.53,362.60 96.14,364.21 96.14,366.20 L96.14,436.80 C96.14,439.56 93.53,441.80 90.30,441.80 L87.38,441.80 C84.15,441.80 81.54,439.56 81.54,436.80 Z"/></clipPath>
<clipPath id="cp3"><path d="M102.76,310.40 C102.76,307.64 105.37,305.40 108.60,305.40 L111.52,305.40 C114.75,305.40 117.36,307.64 117.36,310.40 L117.36,340.00 C117.36,341.99 114.75,343.60 111.52,343.60 L108.60,343.60 C105.37,343.60 102.76,341.99 102.76,340.00 Z"/><path d="M102.76,347.20 C102.76,345.21 105.37,343.60 108.60,343.60 L111.52,343.60 C114.75,343.60 117.36,345.21 117.36,347.20 L117.36,436.80 C117.36,439.56 114.75,441.80 111.52,441.80 L108.60,441.80 C105.37,441.80 102.76,439.56 102.76,436.80 Z"/></clipPath>
<clipPath id="cp4"><path d="M123.98,317.40 C123.98,314.64 126.59,312.40 129.82,312.40 L132.74,312.40 C135.97,312.40 138.58,314.64 138.58,317.40 L138.58,340.40 C138.58,342.39 135.97,344.00 132.74,344.00 L129.82,344.00 C126.59,344.00 123.98,342.39 123.98,340.40 Z"/><path d="M123.98,347.60 C123.98,345.61 126.59,344.00 129.82,344.00 L132.74,344.00 C135.97,344.00 138.58,345.61 138.58,347.60 L138.58,436.80 C138.58,439.56 135.97,441.80 132.74,441.80 L129.82,441.80 C126.59,441.80 123.98,439.56 123.98,436.80 Z"/></clipPath>
<clipPath id="cp5"><path d="M145.20,323.60 C145.20,320.84 147.81,318.60 151.04,318.60 L153.96,318.60 C157.19,318.60 159.80,320.84 159.80,323.60 L159.80,357.50 C159.80,359.49 157.19,361.10 153.96,361.10 L151.04,361.10 C147.81,361.10 145.20,359.49 145.20,357.50 Z"/><path d="M145.20,364.70 C145.20,362.71 147.81,361.10 151.04,361.10 L153.96,361.10 C157.19,361.10 159.80,362.71 159.80,364.70 L159.80,436.80 C159.80,439.56 157.19,441.80 153.96,441.80 L151.04,441.80 C147.81,441.80 145.20,439.56 145.20,436.80 Z"/></clipPath>
<clipPath id="cp6"><path d="M166.42,332.70 C166.42,329.94 169.03,327.70 172.26,327.70 L175.18,327.70 C178.41,327.70 181.02,329.94 181.02,332.70 L181.02,367.20 C181.02,369.19 178.41,370.80 175.18,370.80 L172.26,370.80 C169.03,370.80 166.42,369.19 166.42,367.20 Z"/><path d="M166.42,374.40 C166.42,372.41 169.03,370.80 172.26,370.80 L175.18,370.80 C178.41,370.80 181.02,372.41 181.02,374.40 L181.02,436.80 C181.02,439.56 178.41,441.80 175.18,441.80 L172.26,441.80 C169.03,441.80 166.42,439.56 166.42,436.80 Z"/></clipPath>
<clipPath id="cp7"><path d="M187.64,346.00 C187.64,343.24 190.25,341.00 193.48,341.00 L196.40,341.00 C199.63,341.00 202.24,343.24 202.24,346.00 L202.24,367.20 C202.24,369.19 199.63,370.80 196.40,370.80 L193.48,370.80 C190.25,370.80 187.64,369.19 187.64,367.20 Z"/><path d="M187.64,374.40 C187.64,372.41 190.25,370.80 193.48,370.80 L196.40,370.80 C199.63,370.80 202.24,372.41 202.24,374.40 L202.24,436.80 C202.24,439.56 199.63,441.80 196.40,441.80 L193.48,441.80 C190.25,441.80 187.64,439.56 187.64,436.80 Z"/></clipPath>
<clipPath id="cp8"><path d="M208.86,349.70 C208.86,346.94 211.47,344.70 214.70,344.70 L217.62,344.70 C220.85,344.70 223.46,346.94 223.46,349.70 L223.46,372.60 C223.46,374.59 220.85,376.20 217.62,376.20 L214.70,376.20 C211.47,376.20 208.86,374.59 208.86,372.60 Z"/><path d="M208.86,379.80 C208.86,377.81 211.47,376.20 214.70,376.20 L217.62,376.20 C220.85,376.20 223.46,377.81 223.46,379.80 L223.46,436.80 C223.46,439.56 220.85,441.80 217.62,441.80 L214.70,441.80 C211.47,441.80 208.86,439.56 208.86,436.80 Z"/></clipPath>
<clipPath id="cp9"><path d="M230.08,348.50 C230.08,345.74 232.69,343.50 235.92,343.50 L238.84,343.50 C242.07,343.50 244.68,345.74 244.68,348.50 L244.68,371.50 C244.68,373.49 242.07,375.10 238.84,375.10 L235.92,375.10 C232.69,375.10 230.08,373.49 230.08,371.50 Z"/><path d="M230.08,378.70 C230.08,376.71 232.69,375.10 235.92,375.10 L238.84,375.10 C242.07,375.10 244.68,376.71 244.68,378.70 L244.68,436.80 C244.68,439.56 242.07,441.80 238.84,441.80 L235.92,441.80 C232.69,441.80 230.08,439.56 230.08,436.80 Z"/></clipPath>
<clipPath id="cp10"><path d="M251.30,349.50 C251.30,346.74 253.91,344.50 257.14,344.50 L260.06,344.50 C263.29,344.50 265.90,346.74 265.90,349.50 L265.90,377.90 C265.90,379.89 263.29,381.50 260.06,381.50 L257.14,381.50 C253.91,381.50 251.30,379.89 251.30,377.90 Z"/><path d="M251.30,385.10 C251.30,383.11 253.91,381.50 257.14,381.50 L260.06,381.50 C263.29,381.50 265.90,383.11 265.90,385.10 L265.90,436.80 C265.90,439.56 263.29,441.80 260.06,441.80 L257.14,441.80 C253.91,441.80 251.30,439.56 251.30,436.80 Z"/></clipPath>
<clipPath id="cp11"><path d="M272.52,355.30 C272.52,352.54 275.13,350.30 278.36,350.30 L281.28,350.30 C284.51,350.30 287.12,352.54 287.12,355.30 L287.12,372.10 C287.12,374.09 284.51,375.70 281.28,375.70 L278.36,375.70 C275.13,375.70 272.52,374.09 272.52,372.10 Z"/><path d="M272.52,379.30 C272.52,377.31 275.13,375.70 278.36,375.70 L281.28,375.70 C284.51,375.70 287.12,377.31 287.12,379.30 L287.12,436.80 C287.12,439.56 284.51,441.80 281.28,441.80 L278.36,441.80 C275.13,441.80 272.52,439.56 272.52,436.80 Z"/></clipPath>
<clipPath id="cp12"><path d="M293.74,367.60 C293.74,364.84 296.35,362.60 299.58,362.60 L302.50,362.60 C305.73,362.60 308.34,364.84 308.34,367.60 L308.34,373.60 C308.34,375.59 305.73,377.20 302.50,377.20 L299.58,377.20 C296.35,377.20 293.74,375.59 293.74,373.60 Z"/><path d="M293.74,380.80 C293.74,378.81 296.35,377.20 299.58,377.20 L302.50,377.20 C305.73,377.20 308.34,378.81 308.34,380.80 L308.34,436.80 C308.34,439.56 305.73,441.80 302.50,441.80 L299.58,441.80 C296.35,441.80 293.74,439.56 293.74,436.80 Z"/></clipPath>
<clipPath id="cp13"><path d="M314.96,370.20 C314.96,367.44 317.57,365.20 320.80,365.20 L323.72,365.20 C326.95,365.20 329.56,367.44 329.56,370.20 L329.56,378.60 C329.56,380.59 326.95,382.20 323.72,382.20 L320.80,382.20 C317.57,382.20 314.96,380.59 314.96,378.60 Z"/><path d="M314.96,385.80 C314.96,383.81 317.57,382.20 320.80,382.20 L323.72,382.20 C326.95,382.20 329.56,383.81 329.56,385.80 L329.56,436.80 C329.56,439.56 326.95,441.80 323.72,441.80 L320.80,441.80 C317.57,441.80 314.96,439.56 314.96,436.80 Z"/></clipPath>
<clipPath id="cp14"><path d="M336.18,372.50 C336.18,369.74 338.79,367.50 342.02,367.50 L344.94,367.50 C348.17,367.50 350.78,369.74 350.78,372.50 L350.78,380.30 C350.78,382.29 348.17,383.90 344.94,383.90 L342.02,383.90 C338.79,383.90 336.18,382.29 336.18,380.30 Z"/><path d="M336.18,387.50 C336.18,385.51 338.79,383.90 342.02,383.90 L344.94,383.90 C348.17,383.90 350.78,385.51 350.78,387.50 L350.78,436.80 C350.78,439.56 348.17,441.80 344.94,441.80 L342.02,441.80 C338.79,441.80 336.18,439.56 336.18,436.80 Z"/></clipPath>
<clipPath id="cp15"><path d="M357.40,384.40 C357.40,381.64 360.01,379.40 363.24,379.40 L366.16,379.40 C369.39,379.40 372.00,381.64 372.00,384.40 L372.00,399.80 C372.00,401.79 369.39,403.40 366.16,403.40 L363.24,403.40 C360.01,403.40 357.40,401.79 357.40,399.80 Z"/><path d="M357.40,407.00 C357.40,405.01 360.01,403.40 363.24,403.40 L366.16,403.40 C369.39,403.40 372.00,405.01 372.00,407.00 L372.00,436.80 C372.00,439.56 369.39,441.80 366.16,441.80 L363.24,441.80 C360.01,441.80 357.40,439.56 357.40,436.80 Z"/></clipPath>
<clipPath id="cp16"><path d="M378.62,386.30 C378.62,383.54 381.23,381.30 384.46,381.30 L387.38,381.30 C390.61,381.30 393.22,383.54 393.22,386.30 L393.22,398.20 C393.22,400.19 390.61,401.80 387.38,401.80 L384.46,401.80 C381.23,401.80 378.62,400.19 378.62,398.20 Z"/><path d="M378.62,405.40 C378.62,403.41 381.23,401.80 384.46,401.80 L387.38,401.80 C390.61,401.80 393.22,403.41 393.22,405.40 L393.22,436.80 C393.22,439.56 390.61,441.80 387.38,441.80 L384.46,441.80 C381.23,441.80 378.62,439.56 378.62,436.80 Z"/></clipPath>
<clipPath id="cp17"><path d="M399.84,390.30 C399.84,387.54 402.45,385.30 405.68,385.30 L408.60,385.30 C411.83,385.30 414.44,387.54 414.44,390.30 L414.44,397.80 C414.44,399.79 411.83,401.40 408.60,401.40 L405.68,401.40 C402.45,401.40 399.84,399.79 399.84,397.80 Z"/><path d="M399.84,405.00 C399.84,403.01 402.45,401.40 405.68,401.40 L408.60,401.40 C411.83,401.40 414.44,403.01 414.44,405.00 L414.44,436.80 C414.44,439.56 411.83,441.80 408.60,441.80 L405.68,441.80 C402.45,441.80 399.84,439.56 399.84,436.80 Z"/></clipPath>
<clipPath id="cp18"><path d="M421.06,396.80 C421.06,394.04 423.67,391.80 426.90,391.80 L429.82,391.80 C433.05,391.80 435.66,394.04 435.66,396.80 L435.66,412.40 C435.66,414.39 433.05,416.00 429.82,416.00 L426.90,416.00 C423.67,416.00 421.06,414.39 421.06,412.40 Z"/><path d="M421.06,419.60 C421.06,417.61 423.67,416.00 426.90,416.00 L429.82,416.00 C433.05,416.00 435.66,417.61 435.66,419.60 L435.66,436.80 C435.66,439.56 433.05,441.80 429.82,441.80 L426.90,441.80 C423.67,441.80 421.06,439.56 421.06,436.80 Z"/></clipPath>
<clipPath id="cp19"><path d="M442.28,401.20 C442.28,398.44 444.89,396.20 448.12,396.20 L451.04,396.20 C454.27,396.20 456.88,398.44 456.88,401.20 L456.88,411.60 C456.88,413.59 454.27,415.20 451.04,415.20 L448.12,415.20 C444.89,415.20 442.28,413.59 442.28,411.60 Z"/><path d="M442.28,418.80 C442.28,416.81 444.89,415.20 448.12,415.20 L451.04,415.20 C454.27,415.20 456.88,416.81 456.88,418.80 L456.88,436.80 C456.88,439.56 454.27,441.80 451.04,441.80 L448.12,441.80 C444.89,441.80 442.28,439.56 442.28,436.80 Z"/></clipPath>
<clipPath id="cp20"><path d="M463.50,408.00 C463.50,405.24 466.11,403.00 469.34,403.00 L472.26,403.00 C475.49,403.00 478.10,405.24 478.10,408.00 L478.10,413.90 C478.10,415.89 475.49,417.50 472.26,417.50 L469.34,417.50 C466.11,417.50 463.50,415.89 463.50,413.90 Z"/><path d="M463.50,421.10 C463.50,419.11 466.11,417.50 469.34,417.50 L472.26,417.50 C475.49,417.50 478.10,419.11 478.10,421.10 L478.10,436.80 C478.10,439.56 475.49,441.80 472.26,441.80 L469.34,441.80 C466.11,441.80 463.50,439.56 463.50,436.80 Z"/></clipPath>
<clipPath id="cp21"><path d="M484.72,405.40 C484.72,402.64 487.33,400.40 490.56,400.40 L493.48,400.40 C496.71,400.40 499.32,402.64 499.32,405.40 L499.32,409.70 C499.32,411.69 496.71,413.30 493.48,413.30 L490.56,413.30 C487.33,413.30 484.72,411.69 484.72,409.70 Z"/><path d="M484.72,416.90 C484.72,414.91 487.33,413.30 490.56,413.30 L493.48,413.30 C496.71,413.30 499.32,414.91 499.32,416.90 L499.32,436.80 C499.32,439.56 496.71,441.80 493.48,441.80 L490.56,441.80 C487.33,441.80 484.72,439.56 484.72,436.80 Z"/></clipPath>
<clipPath id="cp22"><path d="M505.94,341.70 C505.94,338.94 508.55,336.70 511.78,336.70 L514.70,336.70 C517.93,336.70 520.54,338.94 520.54,341.70 L520.54,373.40 C520.54,375.39 517.93,377.00 514.70,377.00 L511.78,377.00 C508.55,377.00 505.94,375.39 505.94,373.40 Z"/><path d="M505.94,380.60 C505.94,378.61 508.55,377.00 511.78,377.00 L514.70,377.00 C517.93,377.00 520.54,378.61 520.54,380.60 L520.54,436.80 C520.54,439.56 517.93,441.80 514.70,441.80 L511.78,441.80 C508.55,441.80 505.94,439.56 505.94,436.80 Z"/></clipPath>
</defs>
<g clip-path="url(#cp0)">
<rect x="39.10" y="256.80" width="14.60" height="185.00" fill="#fff"/>
<rect x="39.10" y="258.46" width="14.60" height="2.22" fill="#cccccc"/>
<rect x="39.10" y="261.93" width="14.60" height="1.49" fill="#cccccc"/>
<rect x="39.10" y="265.83" width="14.60" height="2.51" fill="#999999"/>
<rect x="39.10" y="271.32" width="14.60" height="2.58" fill="#cccccc"/>
<rect x="39.10" y="276.74" width="14.60" height="1.71" fill="#cccccc"/>
<rect x="39.10" y="280.13" width="14.60" height="1.49" fill="#cccccc"/>
<rect x="39.10" y="285.41" width="14.60" height="3.01" fill="#cccccc"/>
<rect x="39.10" y="290.25" width="14.60" height="2.87" fill="#555555"/>
<rect x="39.10" y="296.97" width="14.60" height="2.14" fill="#999999"/>
<rect x="39.10" y="300.72" width="14.60" height="5.61" fill="#999999"/>
<rect x="39.10" y="306.86" width="14.60" height="10.96" fill="#000000"/>
<rect x="39.10" y="320.30" width="14.60" height="2.65" fill="#555555"/>
<rect x="39.10" y="324.92" width="14.60" height="3.66" fill="#555555"/>
<rect x="39.10" y="330.34" width="14.60" height="3.59" fill="#000000"/>
<rect x="39.10" y="337.13" width="14.60" height="3.16" fill="#999999"/>
<rect x="39.10" y="341.90" width="14.60" height="2.07" fill="#999999"/>
<rect x="39.10" y="344.27" width="14.60" height="2.88" fill="#f9b4b4"/>
<rect x="39.10" y="347.10" width="14.60" height="3.32" fill="#f9b4b4"/>
<rect x="39.10" y="350.07" width="14.60" height="10.49" fill="#9494f6"/>
<rect x="39.10" y="363.87" width="14.60" height="2.57" fill="#999999"/>
<rect x="39.10" y="369.97" width="14.60" height="1.19" fill="#999999"/>
<rect x="39.10" y="373.09" width="14.60" height="1.12" fill="#999999"/>
<rect x="39.10" y="377.97" width="14.60" height="1.35" fill="#999999"/>
<rect x="39.10" y="382.08" width="14.60" height="1.57" fill="#555555"/>
<rect x="39.10" y="385.97" width="14.60" height="3.33" fill="#999999"/>
<rect x="39.10" y="393.44" width="14.60" height="3.86" fill="#000000"/>
<rect x="39.10" y="399.54" width="14.60" height="3.78" fill="#000000"/>
<rect x="39.10" y="409.75" width="14.60" height="3.33" fill="#cccccc"/>
<rect x="39.10" y="415.31" width="14.60" height="7.37" fill="#000000"/>
<rect x="39.10" y="423.01" width="14.60" height="1.88" fill="#cccccc"/>
<rect x="39.10" y="427.66" width="14.60" height="3.10" fill="#999999"/>
<rect x="39.10" y="432.16" width="14.60" height="5.46" fill="#555555"/>
<rect x="39.10" y="256.80" width="14.60" height="185.00" fill="url(#shade)"/>
</g>
<path d="M39.10,261.80 C39.10,259.04 41.71,256.80 44.94,256.80 L47.86,256.80 C51.09,256.80 53.70,259.04 53.70,261.80 L53.70,343.50 C53.70,345.49 51.09,347.10 47.86,347.10 L44.94,347.10 C41.71,347.10 39.10,345.49 39.10,343.50 Z" fill="none" stroke="#2a2a2a" stroke-width="0.8"/>
<path d="M39.10,350.70 C39.10,348.71 41.71,347.10 44.94,347.10 L47.86,347.10 C51.09,347.10 53.70,348.71 53.70,350.70 L53.70,436.80 C53.70,439.56 51.09,441.80 47.86,441.80 L44.94,441.80 C41.71,441.80 39.10,439.56 39.10,436.80 Z" fill="none" stroke="#2a2a2a" stroke-width="0.8"/>
<text x="46.40" y="458.80" text-anchor="middle" fill="#111" stroke="#111" style="font-size:10.6px;stroke-width:0.18px">1</text>
<g clip-path="url(#cp1)">
<rect x="60.32" y="265.20" width="14.60" height="176.60" fill="#fff"/>
<rect x="60.32" y="268.36" width="14.60" height="1.99" fill="#999999"/>
<rect x="60.32" y="273.97" width="14.60" height="3.29" fill="#555555"/>
<rect x="60.32" y="279.01" width="14.60" height="3.50" fill="#555555"/>
<rect x="60.32" y="285.27" width="14.60" height="1.56" fill="#cccccc"/>
<rect x="60.32" y="288.29" width="14.60" height="3.29" fill="#555555"/>
<rect x="60.32" y="292.96" width="14.60" height="2.35" fill="#999999"/>
<rect x="60.32" y="299.58" width="14.60" height="3.72" fill="#000000"/>
<rect x="60.32" y="304.76" width="14.60" height="4.58" fill="#000000"/>
<rect x="60.32" y="311.30" width="14.60" height="3.29" fill="#999999"/>
<rect x="60.32" y="316.62" width="14.60" height="1.49" fill="#999999"/>
<rect x="60.32" y="319.14" width="14.60" height="6.02" fill="#000000"/>
<rect x="60.32" y="329.99" width="14.60" height="2.36" fill="#f9b4b4"/>
<rect x="60.32" y="332.30" width="14.60" height="2.91" fill="#f9b4b4"/>
<rect x="60.32" y="339.17" width="14.60" height="2.46" fill="#999999"/>
<rect x="60.32" y="342.67" width="14.60" height="2.02" fill="#cccccc"/>
<rect x="60.32" y="347.71" width="14.60" height="3.26" fill="#999999"/>
<rect x="60.32" y="353.56" width="14.60" height="5.53" fill="#999999"/>
<rect x="60.32" y="360.94" width="14.60" height="1.95" fill="#cccccc"/>
<rect x="60.32" y="364.08" width="14.60" height="3.99" fill="#000000"/>
<rect x="60.32" y="369.41" width="14.60" height="3.41" fill="#000000"/>
<rect x="60.32" y="373.65" width="14.60" height="0.49" fill="#cccccc"/>
<rect x="60.32" y="377.30" width="14.60" height="3.63" fill="#555555"/>
<rect x="60.32" y="383.73" width="14.60" height="4.43" fill="#000000"/>
<rect x="60.32" y="394.17" width="14.60" height="1.95" fill="#999999"/>
<rect x="60.32" y="397.82" width="14.60" height="4.73" fill="#555555"/>
<rect x="60.32" y="404.33" width="14.60" height="4.07" fill="#555555"/>
<rect x="60.32" y="412.65" width="14.60" height="1.22" fill="#999999"/>
<rect x="60.32" y="416.82" width="14.60" height="4.65" fill="#000000"/>
<rect x="60.32" y="421.42" width="14.60" height="4.58" fill="#cccccc"/>
<rect x="60.32" y="425.95" width="14.60" height="2.75" fill="#555555"/>
<rect x="60.32" y="429.31" width="14.60" height="3.63" fill="#000000"/>
<rect x="60.32" y="436.25" width="14.60" height="1.29" fill="#999999"/>
<rect x="60.32" y="265.20" width="14.60" height="176.60" fill="url(#shade)"/>
</g>
<path d="M60.32,270.20 C60.32,267.44 62.93,265.20 66.16,265.20 L69.08,265.20 C72.31,265.20 74.92,267.44 74.92,270.20 L74.92,328.70 C74.92,330.69 72.31,332.30 69.08,332.30 L66.16,332.30 C62.93,332.30 60.32,330.69 60.32,328.70 Z" fill="none" stroke="#2a2a2a" stroke-width="0.8"/>
<path d="M60.32,335.90 C60.32,333.91 62.93,332.30 66.16,332.30 L69.08,332.30 C72.31,332.30 74.92,333.91 74.92,335.90 L74.92,436.80 C74.92,439.56 72.31,441.80 69.08,441.80 L66.16,441.80 C62.93,441.80 60.32,439.56 60.32,436.80 Z" fill="none" stroke="#2a2a2a" stroke-width="0.8"/>
<text x="67.62" y="458.80" text-anchor="middle" fill="#111" stroke="#111" style="font-size:10.6px;stroke-width:0.18px">2</text>
<g clip-path="url(#cp2)">
<rect x="81.54" y="298.50" width="14.60" height="143.30" fill="#fff"/>
<rect x="81.54" y="298.50" width="14.60" height="2.02" fill="#999999"/>
<rect x="81.54" y="301.32" width="14.60" height="3.36" fill="#999999"/>
<rect x="81.54" y="306.81" width="14.60" height="1.11" fill="#cccccc"/>
<rect x="81.54" y="310.05" width="14.60" height="5.33" fill="#000000"/>
<rect x="81.54" y="317.10" width="14.60" height="3.22" fill="#555555"/>
<rect x="81.54" y="321.11" width="14.60" height="3.15" fill="#999999"/>
<rect x="81.54" y="326.25" width="14.60" height="3.08" fill="#555555"/>
<rect x="81.54" y="329.56" width="14.60" height="0.12" fill="#999999"/>
<rect x="81.54" y="334.14" width="14.60" height="1.25" fill="#cccccc"/>
<rect x="81.54" y="336.82" width="14.60" height="3.01" fill="#999999"/>
<rect x="81.54" y="343.37" width="14.60" height="4.35" fill="#999999"/>
<rect x="81.54" y="350.77" width="14.60" height="3.99" fill="#555555"/>
<rect x="81.54" y="357.32" width="14.60" height="2.66" fill="#555555"/>
<rect x="81.54" y="360.12" width="14.60" height="2.53" fill="#f9b4b4"/>
<rect x="81.54" y="362.60" width="14.60" height="2.50" fill="#f9b4b4"/>
<rect x="81.54" y="364.75" width="14.60" height="3.31" fill="#9494f6"/>
<rect x="81.54" y="369.26" width="14.60" height="0.72" fill="#cccccc"/>
<rect x="81.54" y="371.33" width="14.60" height="2.57" fill="#555555"/>
<rect x="81.54" y="375.11" width="14.60" height="2.57" fill="#999999"/>
<rect x="81.54" y="379.25" width="14.60" height="2.86" fill="#555555"/>
<rect x="81.54" y="383.33" width="14.60" height="2.20" fill="#555555"/>
<rect x="81.54" y="386.88" width="14.60" height="1.53" fill="#cccccc"/>
<rect x="81.54" y="390.88" width="14.60" height="3.38" fill="#cccccc"/>
<rect x="81.54" y="395.69" width="14.60" height="2.27" fill="#cccccc"/>
<rect x="81.54" y="400.94" width="14.60" height="4.57" fill="#000000"/>
<rect x="81.54" y="407.83" width="14.60" height="2.20" fill="#999999"/>
<rect x="81.54" y="411.45" width="14.60" height="1.53" fill="#999999"/>
<rect x="81.54" y="414.19" width="14.60" height="5.16" fill="#000000"/>
<rect x="81.54" y="421.74" width="14.60" height="3.60" fill="#555555"/>
<rect x="81.54" y="425.29" width="14.60" height="2.49" fill="#999999"/>
<rect x="81.54" y="427.74" width="14.60" height="2.79" fill="#555555"/>
<rect x="81.54" y="431.81" width="14.60" height="1.16" fill="#cccccc"/>
<rect x="81.54" y="434.32" width="14.60" height="3.31" fill="#555555"/>
<rect x="81.54" y="298.50" width="14.60" height="143.30" fill="url(#shade)"/>
</g>
<path d="M81.54,303.50 C81.54,300.74 84.15,298.50 87.38,298.50 L90.30,298.50 C93.53,298.50 96.14,300.74 96.14,303.50 L96.14,359.00 C96.14,360.99 93.53,362.60 90.30,362.60 L87.38,362.60 C84.15,362.60 81.54,360.99 81.54,359.00 Z" fill="none" stroke="#2a2a2a" stroke-width="0.8"/>
<path d="M81.54,366.20 C81.54,364.21 84.15,362.60 87.38,362.60 L90.30,362.60 C93.53,362.60 96.14,364.21 96.14,366.20 L96.14,436.80 C96.14,439.56 93.53,441.80 90.30,441.80 L87.38,441.80 C84.15,441.80 81.54,439.56 81.54,436.80 Z" fill="none" stroke="#2a2a2a" stroke-width="0.8"/>
<text x="88.84" y="458.80" text-anchor="middle" fill="#111" stroke="#111" style="font-size:10.6px;stroke-width:0.18px">3</text>
<g clip-path="url(#cp3)">
<rect x="102.76" y="305.40" width="14.60" height="136.40" fill="#fff"/>
<rect x="102.76" y="308.81" width="14.60" height="1.19" fill="#cccccc"/>
<rect x="102.76" y="313.96" width="14.60" height="3.01" fill="#999999"/>
<rect x="102.76" y="318.89" width="14.60" height="2.70" fill="#555555"/>
<rect x="102.76" y="326.39" width="14.60" height="6.19" fill="#000000"/>
<rect x="102.76" y="336.63" width="14.60" height="2.63" fill="#999999"/>
<rect x="102.76" y="341.63" width="14.60" height="2.02" fill="#f9b4b4"/>
<rect x="102.76" y="343.60" width="14.60" height="1.95" fill="#f9b4b4"/>
<rect x="102.76" y="349.95" width="14.60" height="5.00" fill="#000000"/>
<rect x="102.76" y="357.62" width="14.60" height="4.10" fill="#555555"/>
<rect x="102.76" y="363.48" width="14.60" height="2.49" fill="#999999"/>
<rect x="102.76" y="367.10" width="14.60" height="2.00" fill="#cccccc"/>
<rect x="102.76" y="369.82" width="14.60" height="4.03" fill="#555555"/>
<rect x="102.76" y="374.78" width="14.60" height="2.63" fill="#555555"/>
<rect x="102.76" y="378.96" width="14.60" height="4.65" fill="#999999"/>
<rect x="102.76" y="388.03" width="14.60" height="4.72" fill="#555555"/>
<rect x="102.76" y="394.79" width="14.60" height="3.54" fill="#999999"/>
<rect x="102.76" y="399.88" width="14.60" height="5.91" fill="#000000"/>
<rect x="102.76" y="407.14" width="14.60" height="3.75" fill="#cccccc"/>
<rect x="102.76" y="412.02" width="14.60" height="1.86" fill="#cccccc"/>
<rect x="102.76" y="416.97" width="14.60" height="5.28" fill="#000000"/>
<rect x="102.76" y="423.18" width="14.60" height="3.33" fill="#000000"/>
<rect x="102.76" y="427.71" width="14.60" height="2.49" fill="#555555"/>
<rect x="102.76" y="431.41" width="14.60" height="4.10" fill="#000000"/>
<rect x="102.76" y="438.45" width="14.60" height="3.40" fill="#cccccc"/>
<rect x="102.76" y="305.40" width="14.60" height="136.40" fill="url(#shade)"/>
</g>
<path d="M102.76,310.40 C102.76,307.64 105.37,305.40 108.60,305.40 L111.52,305.40 C114.75,305.40 117.36,307.64 117.36,310.40 L117.36,340.00 C117.36,341.99 114.75,343.60 111.52,343.60 L108.60,343.60 C105.37,343.60 102.76,341.99 102.76,340.00 Z" fill="none" stroke="#2a2a2a" stroke-width="0.8"/>
<path d="M102.76,347.20 C102.76,345.21 105.37,343.60 108.60,343.60 L111.52,343.60 C114.75,343.60 117.36,345.21 117.36,347.20 L117.36,436.80 C117.36,439.56 114.75,441.80 111.52,441.80 L108.60,441.80 C105.37,441.80 102.76,439.56 102.76,436.80 Z" fill="none" stroke="#2a2a2a" stroke-width="0.8"/>
<text x="110.06" y="458.80" text-anchor="middle" fill="#111" stroke="#111" style="font-size:10.6px;stroke-width:0.18px">4</text>
<g clip-path="url(#cp4)">
<rect x="123.98" y="312.40" width="14.60" height="129.40" fill="#fff"/>
<rect x="123.98" y="315.34" width="14.60" height="1.23" fill="#cccccc"/>
<rect x="123.98" y="318.80" width="14.60" height="3.45" fill="#999999"/>
<rect x="123.98" y="324.41" width="14.60" height="3.25" fill="#000000"/>
<rect x="123.98" y="328.46" width="14.60" height="2.86" fill="#000000"/>
<rect x="123.98" y="334.47" width="14.60" height="3.05" fill="#cccccc"/>
<rect x="123.98" y="340.15" width="14.60" height="2.40" fill="#999999"/>
<rect x="123.98" y="342.20" width="14.60" height="1.85" fill="#f9b4b4"/>
<rect x="123.98" y="344.00" width="14.60" height="2.05" fill="#f9b4b4"/>
<rect x="123.98" y="351.75" width="14.60" height="3.00" fill="#555555"/>
<rect x="123.98" y="354.92" width="14.60" height="2.63" fill="#555555"/>
<rect x="123.98" y="358.76" width="14.60" height="3.67" fill="#999999"/>
<rect x="123.98" y="365.04" width="14.60" height="3.37" fill="#999999"/>
<rect x="123.98" y="369.39" width="14.60" height="7.06" fill="#000000"/>
<rect x="123.98" y="380.76" width="14.60" height="3.45" fill="#000000"/>
<rect x="123.98" y="385.41" width="14.60" height="3.81" fill="#000000"/>
<rect x="123.98" y="390.57" width="14.60" height="1.23" fill="#999999"/>
<rect x="123.98" y="393.31" width="14.60" height="4.63" fill="#000000"/>
<rect x="123.98" y="402.24" width="14.60" height="2.49" fill="#000000"/>
<rect x="123.98" y="408.81" width="14.60" height="2.49" fill="#cccccc"/>
<rect x="123.98" y="414.93" width="14.60" height="3.96" fill="#555555"/>
<rect x="123.98" y="420.99" width="14.60" height="2.26" fill="#999999"/>
<rect x="123.98" y="426.30" width="14.60" height="6.40" fill="#000000"/>
<rect x="123.98" y="435.82" width="14.60" height="2.85" fill="#cccccc"/>
<rect x="123.98" y="312.40" width="14.60" height="129.40" fill="url(#shade)"/>
</g>
<path d="M123.98,317.40 C123.98,314.64 126.59,312.40 129.82,312.40 L132.74,312.40 C135.97,312.40 138.58,314.64 138.58,317.40 L138.58,340.40 C138.58,342.39 135.97,344.00 132.74,344.00 L129.82,344.00 C126.59,344.00 123.98,342.39 123.98,340.40 Z" fill="none" stroke="#2a2a2a" stroke-width="0.8"/>
<path d="M123.98,347.60 C123.98,345.61 126.59,344.00 129.82,344.00 L132.74,344.00 C135.97,344.00 138.58,345.61 138.58,347.60 L138.58,436.80 C138.58,439.56 135.97,441.80 132.74,441.80 L129.82,441.80 C126.59,441.80 123.98,439.56 123.98,436.80 Z" fill="none" stroke="#2a2a2a" stroke-width="0.8"/>
<text x="131.28" y="458.80" text-anchor="middle" fill="#111" stroke="#111" style="font-size:10.6px;stroke-width:0.18px">5</text>
<g clip-path="url(#cp5)">
<rect x="145.20" y="318.60" width="14.60" height="123.20" fill="#fff"/>
<rect x="145.20" y="320.20" width="14.60" height="1.37" fill="#cccccc"/>
<rect x="145.20" y="323.55" width="14.60" height="2.49" fill="#999999"/>
<rect x="145.20" y="326.68" width="14.60" height="1.30" fill="#cccccc"/>
<rect x="145.20" y="329.19" width="14.60" height="7.02" fill="#555555"/>
<rect x="145.20" y="337.41" width="14.60" height="2.42" fill="#999999"/>
<rect x="145.20" y="340.96" width="14.60" height="1.03" fill="#cccccc"/>
<rect x="145.20" y="344.10" width="14.60" height="2.77" fill="#cccccc"/>
<rect x="145.20" y="350.79" width="14.60" height="3.95" fill="#000000"/>
<rect x="145.20" y="355.46" width="14.60" height="2.91" fill="#000000"/>
<rect x="145.20" y="359.20" width="14.60" height="1.95" fill="#f9b4b4"/>
<rect x="145.20" y="361.10" width="14.60" height="2.04" fill="#f9b4b4"/>
<rect x="145.20" y="362.86" width="14.60" height="4.89" fill="#000000"/>
<rect x="145.20" y="372.02" width="14.60" height="5.91" fill="#999999"/>
<rect x="145.20" y="378.62" width="14.60" height="2.32" fill="#999999"/>
<rect x="145.20" y="384.63" width="14.60" height="4.74" fill="#000000"/>
<rect x="145.20" y="390.13" width="14.60" height="3.64" fill="#000000"/>
<rect x="145.20" y="400.39" width="14.60" height="2.76" fill="#555555"/>
<rect x="145.20" y="403.25" width="14.60" height="5.62" fill="#000000"/>
<rect x="145.20" y="409.55" width="14.60" height="2.40" fill="#555555"/>
<rect x="145.20" y="412.55" width="14.60" height="2.98" fill="#999999"/>
<rect x="145.20" y="418.27" width="14.60" height="2.84" fill="#555555"/>
<rect x="145.20" y="423.11" width="14.60" height="2.54" fill="#555555"/>
<rect x="145.20" y="428.17" width="14.60" height="2.25" fill="#999999"/>
<rect x="145.20" y="434.40" width="14.60" height="2.62" fill="#999999"/>
<rect x="145.20" y="318.60" width="14.60" height="123.20" fill="url(#shade)"/>
</g>
<path d="M145.20,323.60 C145.20,320.84 147.81,318.60 151.04,318.60 L153.96,318.60 C157.19,318.60 159.80,320.84 159.80,323.60 L159.80,357.50 C159.80,359.49 157.19,361.10 153.96,361.10 L151.04,361.10 C147.81,361.10 145.20,359.49 145.20,357.50 Z" fill="none" stroke="#2a2a2a" stroke-width="0.8"/>
<path d="M145.20,364.70 C145.20,362.71 147.81,361.10 151.04,361.10 L153.96,361.10 C157.19,361.10 159.80,362.71 159.80,364.70 L159.80,436.80 C159.80,439.56 157.19,441.80 153.96,441.80 L151.04,441.80 C147.81,441.80 145.20,439.56 145.20,436.80 Z" fill="none" stroke="#2a2a2a" stroke-width="0.8"/>
<text x="152.50" y="458.80" text-anchor="middle" fill="#111" stroke="#111" style="font-size:10.6px;stroke-width:0.18px">6</text>
<g clip-path="url(#cp6)">
<rect x="166.42" y="327.70" width="14.60" height="114.10" fill="#fff"/>
<rect x="166.42" y="329.71" width="14.60" height="1.27" fill="#cccccc"/>
<rect x="166.42" y="332.95" width="14.60" height="4.73" fill="#000000"/>
<rect x="166.42" y="339.57" width="14.60" height="3.22" fill="#000000"/>
<rect x="166.42" y="346.05" width="14.60" height="1.85" fill="#999999"/>
<rect x="166.42" y="348.42" width="14.60" height="4.51" fill="#555555"/>
<rect x="166.42" y="354.47" width="14.60" height="4.44" fill="#555555"/>
<rect x="166.42" y="360.37" width="14.60" height="2.64" fill="#555555"/>
<rect x="166.42" y="364.04" width="14.60" height="2.57" fill="#555555"/>
<rect x="166.42" y="369.13" width="14.60" height="1.72" fill="#f9b4b4"/>
<rect x="166.42" y="370.80" width="14.60" height="1.64" fill="#f9b4b4"/>
<rect x="166.42" y="375.88" width="14.60" height="3.77" fill="#999999"/>
<rect x="166.42" y="383.40" width="14.60" height="6.42" fill="#000000"/>
<rect x="166.42" y="391.06" width="14.60" height="2.13" fill="#555555"/>
<rect x="166.42" y="394.35" width="14.60" height="3.77" fill="#555555"/>
<rect x="166.42" y="402.22" width="14.60" height="0.55" fill="#999999"/>
<rect x="166.42" y="404.80" width="14.60" height="5.20" fill="#555555"/>
<rect x="166.42" y="411.95" width="14.60" height="2.70" fill="#555555"/>
<rect x="166.42" y="416.53" width="14.60" height="2.41" fill="#555555"/>
<rect x="166.42" y="420.40" width="14.60" height="0.91" fill="#cccccc"/>
<rect x="166.42" y="422.83" width="14.60" height="4.06" fill="#999999"/>
<rect x="166.42" y="430.35" width="14.60" height="3.49" fill="#555555"/>
<rect x="166.42" y="437.15" width="14.60" height="1.84" fill="#cccccc"/>
<rect x="166.42" y="327.70" width="14.60" height="114.10" fill="url(#shade)"/>
</g>
<path d="M166.42,332.70 C166.42,329.94 169.03,327.70 172.26,327.70 L175.18,327.70 C178.41,327.70 181.02,329.94 181.02,332.70 L181.02,367.20 C181.02,369.19 178.41,370.80 175.18,370.80 L172.26,370.80 C169.03,370.80 166.42,369.19 166.42,367.20 Z" fill="none" stroke="#2a2a2a" stroke-width="0.8"/>
<path d="M166.42,374.40 C166.42,372.41 169.03,370.80 172.26,370.80 L175.18,370.80 C178.41,370.80 181.02,372.41 181.02,374.40 L181.02,436.80 C181.02,439.56 178.41,441.80 175.18,441.80 L172.26,441.80 C169.03,441.80 166.42,439.56 166.42,436.80 Z" fill="none" stroke="#2a2a2a" stroke-width="0.8"/>
<text x="173.72" y="458.80" text-anchor="middle" fill="#111" stroke="#111" style="font-size:10.6px;stroke-width:0.18px">7</text>
<g clip-path="url(#cp7)">
<rect x="187.64" y="341.00" width="14.60" height="100.80" fill="#fff"/>
<rect x="187.64" y="342.44" width="14.60" height="2.66" fill="#555555"/>
<rect x="187.64" y="349.30" width="14.60" height="4.17" fill="#000000"/>
<rect x="187.64" y="356.23" width="14.60" height="2.73" fill="#999999"/>
<rect x="187.64" y="359.82" width="14.60" height="5.08" fill="#555555"/>
<rect x="187.64" y="366.03" width="14.60" height="0.96" fill="#cccccc"/>
<rect x="187.64" y="368.87" width="14.60" height="1.98" fill="#f9b4b4"/>
<rect x="187.64" y="370.80" width="14.60" height="2.11" fill="#f9b4b4"/>
<rect x="187.64" y="375.45" width="14.60" height="0.33" fill="#555555"/>
<rect x="187.64" y="377.77" width="14.60" height="4.35" fill="#999999"/>
<rect x="187.64" y="382.49" width="14.60" height="2.73" fill="#999999"/>
<rect x="187.64" y="386.58" width="14.60" height="1.81" fill="#999999"/>
<rect x="187.64" y="390.73" width="14.60" height="3.15" fill="#000000"/>
<rect x="187.64" y="395.10" width="14.60" height="3.22" fill="#555555"/>
<rect x="187.64" y="399.89" width="14.60" height="4.56" fill="#000000"/>
<rect x="187.64" y="408.41" width="14.60" height="1.88" fill="#cccccc"/>
<rect x="187.64" y="413.48" width="14.60" height="3.08" fill="#555555"/>
<rect x="187.64" y="417.64" width="14.60" height="3.99" fill="#000000"/>
<rect x="187.64" y="422.64" width="14.60" height="2.37" fill="#999999"/>
<rect x="187.64" y="428.35" width="14.60" height="3.01" fill="#999999"/>
<rect x="187.64" y="434.76" width="14.60" height="2.52" fill="#555555"/>
<rect x="187.64" y="341.00" width="14.60" height="100.80" fill="url(#shade)"/>
</g>
<path d="M187.64,346.00 C187.64,343.24 190.25,341.00 193.48,341.00 L196.40,341.00 C199.63,341.00 202.24,343.24 202.24,346.00 L202.24,367.20 C202.24,369.19 199.63,370.80 196.40,370.80 L193.48,370.80 C190.25,370.80 187.64,369.19 187.64,367.20 Z" fill="none" stroke="#2a2a2a" stroke-width="0.8"/>
<path d="M187.64,374.40 C187.64,372.41 190.25,370.80 193.48,370.80 L196.40,370.80 C199.63,370.80 202.24,372.41 202.24,374.40 L202.24,436.80 C202.24,439.56 199.63,441.80 196.40,441.80 L193.48,441.80 C190.25,441.80 187.64,439.56 187.64,436.80 Z" fill="none" stroke="#2a2a2a" stroke-width="0.8"/>
<text x="194.94" y="458.80" text-anchor="middle" fill="#111" stroke="#111" style="font-size:10.6px;stroke-width:0.18px">8</text>
<g clip-path="url(#cp8)">
<rect x="208.86" y="344.70" width="14.60" height="97.10" fill="#fff"/>
<rect x="208.86" y="346.11" width="14.60" height="1.59" fill="#cccccc"/>
<rect x="208.86" y="350.49" width="14.60" height="3.39" fill="#555555"/>
<rect x="208.86" y="355.37" width="14.60" height="1.27" fill="#cccccc"/>
<rect x="208.86" y="357.49" width="14.60" height="3.71" fill="#000000"/>
<rect x="208.86" y="362.70" width="14.60" height="3.39" fill="#000000"/>
<rect x="208.86" y="368.04" width="14.60" height="1.40" fill="#cccccc"/>
<rect x="208.86" y="374.81" width="14.60" height="1.44" fill="#f9b4b4"/>
<rect x="208.86" y="376.20" width="14.60" height="1.56" fill="#f9b4b4"/>
<rect x="208.86" y="377.41" width="14.60" height="10.86" fill="#9494f6"/>
<rect x="208.86" y="390.22" width="14.60" height="2.54" fill="#cccccc"/>
<rect x="208.86" y="393.99" width="14.60" height="3.75" fill="#999999"/>
<rect x="208.86" y="399.04" width="14.60" height="2.18" fill="#999999"/>
<rect x="208.86" y="403.17" width="14.60" height="2.54" fill="#999999"/>
<rect x="208.86" y="406.65" width="14.60" height="1.54" fill="#cccccc"/>
<rect x="208.86" y="410.07" width="14.60" height="1.97" fill="#cccccc"/>
<rect x="208.86" y="414.34" width="14.60" height="4.03" fill="#000000"/>
<rect x="208.86" y="420.53" width="14.60" height="2.61" fill="#cccccc"/>
<rect x="208.86" y="425.08" width="14.60" height="3.47" fill="#000000"/>
<rect x="208.86" y="430.84" width="14.60" height="3.25" fill="#cccccc"/>
<rect x="208.86" y="436.32" width="14.60" height="0.41" fill="#cccccc"/>
<rect x="208.86" y="438.03" width="14.60" height="1.12" fill="#cccccc"/>
<rect x="208.86" y="344.70" width="14.60" height="97.10" fill="url(#shade)"/>
</g>
<path d="M208.86,349.70 C208.86,346.94 211.47,344.70 214.70,344.70 L217.62,344.70 C220.85,344.70 223.46,346.94 223.46,349.70 L223.46,372.60 C223.46,374.59 220.85,376.20 217.62,376.20 L214.70,376.20 C211.47,376.20 208.86,374.59 208.86,372.60 Z" fill="none" stroke="#2a2a2a" stroke-width="0.8"/>
<path d="M208.86,379.80 C208.86,377.81 211.47,376.20 214.70,376.20 L217.62,376.20 C220.85,376.20 223.46,377.81 223.46,379.80 L223.46,436.80 C223.46,439.56 220.85,441.80 217.62,441.80 L214.70,441.80 C211.47,441.80 208.86,439.56 208.86,436.80 Z" fill="none" stroke="#2a2a2a" stroke-width="0.8"/>
<text x="216.16" y="458.80" text-anchor="middle" fill="#111" stroke="#111" style="font-size:10.6px;stroke-width:0.18px">9</text>
<g clip-path="url(#cp9)">
<rect x="230.08" y="343.50" width="14.60" height="98.30" fill="#fff"/>
<rect x="230.08" y="345.86" width="14.60" height="0.68" fill="#cccccc"/>
<rect x="230.08" y="348.69" width="14.60" height="4.45" fill="#555555"/>
<rect x="230.08" y="357.10" width="14.60" height="1.07" fill="#555555"/>
<rect x="230.08" y="358.20" width="14.60" height="3.12" fill="#555555"/>
<rect x="230.08" y="362.84" width="14.60" height="3.98" fill="#999999"/>
<rect x="230.08" y="368.10" width="14.60" height="2.49" fill="#cccccc"/>
<rect x="230.08" y="373.07" width="14.60" height="2.08" fill="#f9b4b4"/>
<rect x="230.08" y="375.10" width="14.60" height="1.82" fill="#f9b4b4"/>
<rect x="230.08" y="379.23" width="14.60" height="2.71" fill="#cccccc"/>
<rect x="230.08" y="383.99" width="14.60" height="5.86" fill="#000000"/>
<rect x="230.08" y="392.11" width="14.60" height="4.32" fill="#000000"/>
<rect x="230.08" y="399.39" width="14.60" height="2.01" fill="#999999"/>
<rect x="230.08" y="404.36" width="14.60" height="4.18" fill="#000000"/>
<rect x="230.08" y="409.60" width="14.60" height="2.43" fill="#555555"/>
<rect x="230.08" y="412.82" width="14.60" height="2.08" fill="#999999"/>
<rect x="230.08" y="416.46" width="14.60" height="1.87" fill="#999999"/>
<rect x="230.08" y="419.05" width="14.60" height="1.38" fill="#cccccc"/>
<rect x="230.08" y="421.01" width="14.60" height="4.32" fill="#000000"/>
<rect x="230.08" y="427.38" width="14.60" height="2.99" fill="#555555"/>
<rect x="230.08" y="432.14" width="14.60" height="1.03" fill="#999999"/>
<rect x="230.08" y="436.20" width="14.60" height="2.22" fill="#999999"/>
<rect x="230.08" y="343.50" width="14.60" height="98.30" fill="url(#shade)"/>
</g>
<path d="M230.08,348.50 C230.08,345.74 232.69,343.50 235.92,343.50 L238.84,343.50 C242.07,343.50 244.68,345.74 244.68,348.50 L244.68,371.50 C244.68,373.49 242.07,375.10 238.84,375.10 L235.92,375.10 C232.69,375.10 230.08,373.49 230.08,371.50 Z" fill="none" stroke="#2a2a2a" stroke-width="0.8"/>
<path d="M230.08,378.70 C230.08,376.71 232.69,375.10 235.92,375.10 L238.84,375.10 C242.07,375.10 244.68,376.71 244.68,378.70 L244.68,436.80 C244.68,439.56 242.07,441.80 238.84,441.80 L235.92,441.80 C232.69,441.80 230.08,439.56 230.08,436.80 Z" fill="none" stroke="#2a2a2a" stroke-width="0.8"/>
<text x="237.38" y="458.80" text-anchor="middle" fill="#111" stroke="#111" style="font-size:10.6px;stroke-width:0.18px">10</text>
<g clip-path="url(#cp10)">
<rect x="251.30" y="344.50" width="14.60" height="97.30" fill="#fff"/>
<rect x="251.30" y="346.36" width="14.60" height="5.30" fill="#999999"/>
<rect x="251.30" y="352.94" width="14.60" height="2.37" fill="#999999"/>
<rect x="251.30" y="358.91" width="14.60" height="2.97" fill="#000000"/>
<rect x="251.30" y="362.57" width="14.60" height="2.57" fill="#555555"/>
<rect x="251.30" y="368.68" width="14.60" height="4.77" fill="#000000"/>
<rect x="251.30" y="376.92" width="14.60" height="1.91" fill="#555555"/>
<rect x="251.30" y="379.87" width="14.60" height="1.68" fill="#f9b4b4"/>
<rect x="251.30" y="381.50" width="14.60" height="3.54" fill="#f9b4b4"/>
<rect x="251.30" y="384.69" width="14.60" height="1.42" fill="#555555"/>
<rect x="251.30" y="386.14" width="14.60" height="1.42" fill="#cccccc"/>
<rect x="251.30" y="389.41" width="14.60" height="2.03" fill="#cccccc"/>
<rect x="251.30" y="392.75" width="14.60" height="3.85" fill="#999999"/>
<rect x="251.30" y="398.00" width="14.60" height="6.51" fill="#000000"/>
<rect x="251.30" y="406.29" width="14.60" height="3.47" fill="#000000"/>
<rect x="251.30" y="413.06" width="14.60" height="3.78" fill="#000000"/>
<rect x="251.30" y="417.39" width="14.60" height="5.75" fill="#000000"/>
<rect x="251.30" y="424.69" width="14.60" height="1.57" fill="#999999"/>
<rect x="251.30" y="431.31" width="14.60" height="2.10" fill="#999999"/>
<rect x="251.30" y="436.33" width="14.60" height="2.33" fill="#999999"/>
<rect x="251.30" y="344.50" width="14.60" height="97.30" fill="url(#shade)"/>
</g>
<path d="M251.30,349.50 C251.30,346.74 253.91,344.50 257.14,344.50 L260.06,344.50 C263.29,344.50 265.90,346.74 265.90,349.50 L265.90,377.90 C265.90,379.89 263.29,381.50 260.06,381.50 L257.14,381.50 C253.91,381.50 251.30,379.89 251.30,377.90 Z" fill="none" stroke="#2a2a2a" stroke-width="0.8"/>
<path d="M251.30,385.10 C251.30,383.11 253.91,381.50 257.14,381.50 L260.06,381.50 C263.29,381.50 265.90,383.11 265.90,385.10 L265.90,436.80 C265.90,439.56 263.29,441.80 260.06,441.80 L257.14,441.80 C253.91,441.80 251.30,439.56 251.30,436.80 Z" fill="none" stroke="#2a2a2a" stroke-width="0.8"/>
<text x="258.60" y="458.80" text-anchor="middle" fill="#111" stroke="#111" style="font-size:10.6px;stroke-width:0.18px">11</text>
<g clip-path="url(#cp11)">
<rect x="272.52" y="350.30" width="14.60" height="91.50" fill="#fff"/>
<rect x="272.52" y="352.64" width="14.60" height="1.54" fill="#cccccc"/>
<rect x="272.52" y="357.47" width="14.60" height="1.97" fill="#555555"/>
<rect x="272.52" y="360.80" width="14.60" height="3.74" fill="#000000"/>
<rect x="272.52" y="365.41" width="14.60" height="3.74" fill="#000000"/>
<rect x="272.52" y="370.02" width="14.60" height="2.11" fill="#999999"/>
<rect x="272.52" y="373.63" width="14.60" height="2.12" fill="#f9b4b4"/>
<rect x="272.52" y="375.70" width="14.60" height="1.97" fill="#f9b4b4"/>
<rect x="272.52" y="377.32" width="14.60" height="5.58" fill="#000000"/>
<rect x="272.52" y="384.66" width="14.60" height="1.67" fill="#cccccc"/>
<rect x="272.52" y="388.57" width="14.60" height="1.20" fill="#cccccc"/>
<rect x="272.52" y="390.73" width="14.60" height="3.42" fill="#555555"/>
<rect x="272.52" y="395.44" width="14.60" height="1.80" fill="#999999"/>
<rect x="272.52" y="399.75" width="14.60" height="2.88" fill="#555555"/>
<rect x="272.52" y="405.68" width="14.60" height="4.36" fill="#000000"/>
<rect x="272.52" y="411.55" width="14.60" height="2.48" fill="#000000"/>
<rect x="272.52" y="416.40" width="14.60" height="3.69" fill="#555555"/>
<rect x="272.52" y="421.52" width="14.60" height="3.55" fill="#999999"/>
<rect x="272.52" y="426.84" width="14.60" height="0.45" fill="#cccccc"/>
<rect x="272.52" y="428.59" width="14.60" height="4.29" fill="#999999"/>
<rect x="272.52" y="432.91" width="14.60" height="3.55" fill="#999999"/>
<rect x="272.52" y="438.70" width="14.60" height="1.60" fill="#999999"/>
<rect x="272.52" y="350.30" width="14.60" height="91.50" fill="url(#shade)"/>
</g>
<path d="M272.52,355.30 C272.52,352.54 275.13,350.30 278.36,350.30 L281.28,350.30 C284.51,350.30 287.12,352.54 287.12,355.30 L287.12,372.10 C287.12,374.09 284.51,375.70 281.28,375.70 L278.36,375.70 C275.13,375.70 272.52,374.09 272.52,372.10 Z" fill="none" stroke="#2a2a2a" stroke-width="0.8"/>
<path d="M272.52,379.30 C272.52,377.31 275.13,375.70 278.36,375.70 L281.28,375.70 C284.51,375.70 287.12,377.31 287.12,379.30 L287.12,436.80 C287.12,439.56 284.51,441.80 281.28,441.80 L278.36,441.80 C275.13,441.80 272.52,439.56 272.52,436.80 Z" fill="none" stroke="#2a2a2a" stroke-width="0.8"/>
<text x="279.82" y="458.80" text-anchor="middle" fill="#111" stroke="#111" style="font-size:10.6px;stroke-width:0.18px">12</text>
<g clip-path="url(#cp12)">
<rect x="293.74" y="362.60" width="14.60" height="79.20" fill="#fff"/>
<rect x="293.74" y="362.60" width="14.60" height="3.72" fill="#9494f6"/>
<rect x="293.74" y="366.27" width="14.60" height="4.54" fill="#6363f0"/>
<rect x="293.74" y="370.76" width="14.60" height="5.19" fill="#9494f6"/>
<rect x="293.74" y="375.59" width="14.60" height="1.66" fill="#f9b4b4"/>
<rect x="293.74" y="377.20" width="14.60" height="1.41" fill="#f9b4b4"/>
<rect x="293.74" y="380.79" width="14.60" height="1.51" fill="#cccccc"/>
<rect x="293.74" y="383.77" width="14.60" height="0.78" fill="#cccccc"/>
<rect x="293.74" y="386.69" width="14.60" height="1.25" fill="#999999"/>
<rect x="293.74" y="388.89" width="14.60" height="3.10" fill="#555555"/>
<rect x="293.74" y="395.33" width="14.60" height="0.45" fill="#cccccc"/>
<rect x="293.74" y="396.72" width="14.60" height="2.44" fill="#999999"/>
<rect x="293.74" y="402.03" width="14.60" height="2.90" fill="#000000"/>
<rect x="293.74" y="406.68" width="14.60" height="2.31" fill="#555555"/>
<rect x="293.74" y="410.86" width="14.60" height="3.17" fill="#000000"/>
<rect x="293.74" y="415.38" width="14.60" height="1.25" fill="#999999"/>
<rect x="293.74" y="417.77" width="14.60" height="5.83" fill="#000000"/>
<rect x="293.74" y="425.07" width="14.60" height="3.37" fill="#000000"/>
<rect x="293.74" y="430.51" width="14.60" height="0.78" fill="#cccccc"/>
<rect x="293.74" y="432.84" width="14.60" height="2.11" fill="#000000"/>
<rect x="293.74" y="436.36" width="14.60" height="2.24" fill="#000000"/>
<rect x="293.74" y="362.60" width="14.60" height="79.20" fill="url(#shade)"/>
</g>
<path d="M293.74,367.60 C293.74,364.84 296.35,362.60 299.58,362.60 L302.50,362.60 C305.73,362.60 308.34,364.84 308.34,367.60 L308.34,373.60 C308.34,375.59 305.73,377.20 302.50,377.20 L299.58,377.20 C296.35,377.20 293.74,375.59 293.74,373.60 Z" fill="none" stroke="#2a2a2a" stroke-width="0.8"/>
<path d="M293.74,380.80 C293.74,378.81 296.35,377.20 299.58,377.20 L302.50,377.20 C305.73,377.20 308.34,378.81 308.34,380.80 L308.34,436.80 C308.34,439.56 305.73,441.80 302.50,441.80 L299.58,441.80 C296.35,441.80 293.74,439.56 293.74,436.80 Z" fill="none" stroke="#2a2a2a" stroke-width="0.8"/>
<text x="301.04" y="458.80" text-anchor="middle" fill="#111" stroke="#111" style="font-size:10.6px;stroke-width:0.18px">13</text>
<g clip-path="url(#cp13)">
<rect x="314.96" y="365.20" width="14.60" height="76.60" fill="#fff"/>
<rect x="314.96" y="365.20" width="14.60" height="3.62" fill="#9494f6"/>
<rect x="314.96" y="368.77" width="14.60" height="4.30" fill="#6363f0"/>
<rect x="314.96" y="373.02" width="14.60" height="7.78" fill="#9494f6"/>
<rect x="314.96" y="380.45" width="14.60" height="1.80" fill="#f9b4b4"/>
<rect x="314.96" y="382.20" width="14.60" height="1.35" fill="#f9b4b4"/>
<rect x="314.96" y="386.85" width="14.60" height="5.83" fill="#000000"/>
<rect x="314.96" y="393.96" width="14.60" height="0.91" fill="#999999"/>
<rect x="314.96" y="395.62" width="14.60" height="3.84" fill="#000000"/>
<rect x="314.96" y="401.87" width="14.60" height="2.51" fill="#000000"/>
<rect x="314.96" y="406.45" width="14.60" height="0.98" fill="#cccccc"/>
<rect x="314.96" y="409.11" width="14.60" height="2.71" fill="#555555"/>
<rect x="314.96" y="413.56" width="14.60" height="2.11" fill="#999999"/>
<rect x="314.96" y="417.15" width="14.60" height="2.44" fill="#999999"/>
<rect x="314.96" y="423.20" width="14.60" height="2.91" fill="#000000"/>
<rect x="314.96" y="426.92" width="14.60" height="3.31" fill="#000000"/>
<rect x="314.96" y="431.24" width="14.60" height="1.78" fill="#cccccc"/>
<rect x="314.96" y="435.16" width="14.60" height="2.04" fill="#999999"/>
<rect x="314.96" y="438.41" width="14.60" height="0.58" fill="#999999"/>
<rect x="314.96" y="365.20" width="14.60" height="76.60" fill="url(#shade)"/>
</g>
<path d="M314.96,370.20 C314.96,367.44 317.57,365.20 320.80,365.20 L323.72,365.20 C326.95,365.20 329.56,367.44 329.56,370.20 L329.56,378.60 C329.56,380.59 326.95,382.20 323.72,382.20 L320.80,382.20 C317.57,382.20 314.96,380.59 314.96,378.60 Z" fill="none" stroke="#2a2a2a" stroke-width="0.8"/>
<path d="M314.96,385.80 C314.96,383.81 317.57,382.20 320.80,382.20 L323.72,382.20 C326.95,382.20 329.56,383.81 329.56,385.80 L329.56,436.80 C329.56,439.56 326.95,441.80 323.72,441.80 L320.80,441.80 C317.57,441.80 314.96,439.56 314.96,436.80 Z" fill="none" stroke="#2a2a2a" stroke-width="0.8"/>
<text x="322.26" y="458.80" text-anchor="middle" fill="#111" stroke="#111" style="font-size:10.6px;stroke-width:0.18px">14</text>
<g clip-path="url(#cp14)">
<rect x="336.18" y="367.50" width="14.60" height="74.30" fill="#fff"/>
<rect x="336.18" y="367.50" width="14.60" height="3.42" fill="#9494f6"/>
<rect x="336.18" y="370.87" width="14.60" height="4.19" fill="#6363f0"/>
<rect x="336.18" y="375.01" width="14.60" height="6.18" fill="#9494f6"/>
<rect x="336.18" y="380.84" width="14.60" height="3.11" fill="#f9b4b4"/>
<rect x="336.18" y="383.90" width="14.60" height="1.53" fill="#f9b4b4"/>
<rect x="336.18" y="388.55" width="14.60" height="1.71" fill="#999999"/>
<rect x="336.18" y="391.74" width="14.60" height="0.67" fill="#999999"/>
<rect x="336.18" y="394.02" width="14.60" height="4.56" fill="#555555"/>
<rect x="336.18" y="400.40" width="14.60" height="0.60" fill="#cccccc"/>
<rect x="336.18" y="401.79" width="14.60" height="3.31" fill="#555555"/>
<rect x="336.18" y="407.41" width="14.60" height="4.28" fill="#555555"/>
<rect x="336.18" y="411.71" width="14.60" height="3.03" fill="#cccccc"/>
<rect x="336.18" y="417.11" width="14.60" height="0.12" fill="#cccccc"/>
<rect x="336.18" y="417.32" width="14.60" height="3.66" fill="#cccccc"/>
<rect x="336.18" y="422.66" width="14.60" height="1.02" fill="#cccccc"/>
<rect x="336.18" y="424.81" width="14.60" height="2.41" fill="#999999"/>
<rect x="336.18" y="429.46" width="14.60" height="2.68" fill="#999999"/>
<rect x="336.18" y="435.77" width="14.60" height="2.96" fill="#999999"/>
<rect x="336.18" y="367.50" width="14.60" height="74.30" fill="url(#shade)"/>
</g>
<path d="M336.18,372.50 C336.18,369.74 338.79,367.50 342.02,367.50 L344.94,367.50 C348.17,367.50 350.78,369.74 350.78,372.50 L350.78,380.30 C350.78,382.29 348.17,383.90 344.94,383.90 L342.02,383.90 C338.79,383.90 336.18,382.29 336.18,380.30 Z" fill="none" stroke="#2a2a2a" stroke-width="0.8"/>
<path d="M336.18,387.50 C336.18,385.51 338.79,383.90 342.02,383.90 L344.94,383.90 C348.17,383.90 350.78,385.51 350.78,387.50 L350.78,436.80 C350.78,439.56 348.17,441.80 344.94,441.80 L342.02,441.80 C338.79,441.80 336.18,439.56 336.18,436.80 Z" fill="none" stroke="#2a2a2a" stroke-width="0.8"/>
<text x="343.48" y="458.80" text-anchor="middle" fill="#111" stroke="#111" style="font-size:10.6px;stroke-width:0.18px">15</text>
<g clip-path="url(#cp15)">
<rect x="357.40" y="379.40" width="14.60" height="62.40" fill="#fff"/>
<rect x="357.40" y="384.58" width="14.60" height="1.75" fill="#999999"/>
<rect x="357.40" y="387.66" width="14.60" height="1.49" fill="#999999"/>
<rect x="357.40" y="390.42" width="14.60" height="2.94" fill="#999999"/>
<rect x="357.40" y="395.27" width="14.60" height="2.61" fill="#999999"/>
<rect x="357.40" y="401.79" width="14.60" height="1.66" fill="#f9b4b4"/>
<rect x="357.40" y="403.40" width="14.60" height="1.78" fill="#f9b4b4"/>
<rect x="357.40" y="404.83" width="14.60" height="6.05" fill="#9494f6"/>
<rect x="357.40" y="410.83" width="14.60" height="4.05" fill="#999999"/>
<rect x="357.40" y="417.76" width="14.60" height="0.55" fill="#999999"/>
<rect x="357.40" y="424.90" width="14.60" height="2.98" fill="#999999"/>
<rect x="357.40" y="429.33" width="14.60" height="0.91" fill="#999999"/>
<rect x="357.40" y="433.83" width="14.60" height="1.84" fill="#999999"/>
<rect x="357.40" y="437.41" width="14.60" height="2.12" fill="#cccccc"/>
<rect x="357.40" y="440.62" width="14.60" height="1.23" fill="#cccccc"/>
<rect x="357.40" y="379.40" width="14.60" height="62.40" fill="url(#shade)"/>
</g>
<path d="M357.40,384.40 C357.40,381.64 360.01,379.40 363.24,379.40 L366.16,379.40 C369.39,379.40 372.00,381.64 372.00,384.40 L372.00,399.80 C372.00,401.79 369.39,403.40 366.16,403.40 L363.24,403.40 C360.01,403.40 357.40,401.79 357.40,399.80 Z" fill="none" stroke="#2a2a2a" stroke-width="0.8"/>
<path d="M357.40,407.00 C357.40,405.01 360.01,403.40 363.24,403.40 L366.16,403.40 C369.39,403.40 372.00,405.01 372.00,407.00 L372.00,436.80 C372.00,439.56 369.39,441.80 366.16,441.80 L363.24,441.80 C360.01,441.80 357.40,439.56 357.40,436.80 Z" fill="none" stroke="#2a2a2a" stroke-width="0.8"/>
<text x="364.70" y="458.80" text-anchor="middle" fill="#111" stroke="#111" style="font-size:10.6px;stroke-width:0.18px">16</text>
<g clip-path="url(#cp16)">
<rect x="378.62" y="381.30" width="14.60" height="60.50" fill="#fff"/>
<rect x="378.62" y="384.12" width="14.60" height="2.78" fill="#999999"/>
<rect x="378.62" y="390.44" width="14.60" height="4.58" fill="#555555"/>
<rect x="378.62" y="399.96" width="14.60" height="1.89" fill="#f9b4b4"/>
<rect x="378.62" y="401.80" width="14.60" height="1.61" fill="#f9b4b4"/>
<rect x="378.62" y="407.25" width="14.60" height="4.46" fill="#999999"/>
<rect x="378.62" y="411.87" width="14.60" height="1.80" fill="#cccccc"/>
<rect x="378.62" y="416.42" width="14.60" height="1.80" fill="#cccccc"/>
<rect x="378.62" y="420.12" width="14.60" height="5.22" fill="#555555"/>
<rect x="378.62" y="425.79" width="14.60" height="2.01" fill="#555555"/>
<rect x="378.62" y="428.79" width="14.60" height="1.17" fill="#999999"/>
<rect x="378.62" y="431.94" width="14.60" height="2.71" fill="#555555"/>
<rect x="378.62" y="437.32" width="14.60" height="0.40" fill="#cccccc"/>
<rect x="378.62" y="381.30" width="14.60" height="60.50" fill="url(#shade)"/>
</g>
<path d="M378.62,386.30 C378.62,383.54 381.23,381.30 384.46,381.30 L387.38,381.30 C390.61,381.30 393.22,383.54 393.22,386.30 L393.22,398.20 C393.22,400.19 390.61,401.80 387.38,401.80 L384.46,401.80 C381.23,401.80 378.62,400.19 378.62,398.20 Z" fill="none" stroke="#2a2a2a" stroke-width="0.8"/>
<path d="M378.62,405.40 C378.62,403.41 381.23,401.80 384.46,401.80 L387.38,401.80 C390.61,401.80 393.22,403.41 393.22,405.40 L393.22,436.80 C393.22,439.56 390.61,441.80 387.38,441.80 L384.46,441.80 C381.23,441.80 378.62,439.56 378.62,436.80 Z" fill="none" stroke="#2a2a2a" stroke-width="0.8"/>
<text x="385.92" y="458.80" text-anchor="middle" fill="#111" stroke="#111" style="font-size:10.6px;stroke-width:0.18px">17</text>
<g clip-path="url(#cp17)">
<rect x="399.84" y="385.30" width="14.60" height="56.50" fill="#fff"/>
<rect x="399.84" y="388.01" width="14.60" height="3.98" fill="#999999"/>
<rect x="399.84" y="393.26" width="14.60" height="2.30" fill="#cccccc"/>
<rect x="399.84" y="399.42" width="14.60" height="2.03" fill="#f9b4b4"/>
<rect x="399.84" y="401.40" width="14.60" height="1.54" fill="#f9b4b4"/>
<rect x="399.84" y="406.57" width="14.60" height="5.16" fill="#000000"/>
<rect x="399.84" y="414.67" width="14.60" height="4.23" fill="#555555"/>
<rect x="399.84" y="421.96" width="14.60" height="3.76" fill="#555555"/>
<rect x="399.84" y="427.27" width="14.60" height="1.91" fill="#999999"/>
<rect x="399.84" y="430.85" width="14.60" height="3.50" fill="#000000"/>
<rect x="399.84" y="435.56" width="14.60" height="2.97" fill="#cccccc"/>
<rect x="399.84" y="385.30" width="14.60" height="56.50" fill="url(#shade)"/>
</g>
<path d="M399.84,390.30 C399.84,387.54 402.45,385.30 405.68,385.30 L408.60,385.30 C411.83,385.30 414.44,387.54 414.44,390.30 L414.44,397.80 C414.44,399.79 411.83,401.40 408.60,401.40 L405.68,401.40 C402.45,401.40 399.84,399.79 399.84,397.80 Z" fill="none" stroke="#2a2a2a" stroke-width="0.8"/>
<path d="M399.84,405.00 C399.84,403.01 402.45,401.40 405.68,401.40 L408.60,401.40 C411.83,401.40 414.44,403.01 414.44,405.00 L414.44,436.80 C414.44,439.56 411.83,441.80 408.60,441.80 L405.68,441.80 C402.45,441.80 399.84,439.56 399.84,436.80 Z" fill="none" stroke="#2a2a2a" stroke-width="0.8"/>
<text x="407.14" y="458.80" text-anchor="middle" fill="#111" stroke="#111" style="font-size:10.6px;stroke-width:0.18px">18</text>
<g clip-path="url(#cp18)">
<rect x="421.06" y="391.80" width="14.60" height="50.00" fill="#fff"/>
<rect x="421.06" y="398.10" width="14.60" height="6.44" fill="#cccccc"/>
<rect x="421.06" y="404.58" width="14.60" height="2.15" fill="#cccccc"/>
<rect x="421.06" y="410.06" width="14.60" height="4.07" fill="#9494f6"/>
<rect x="421.06" y="413.78" width="14.60" height="2.27" fill="#f9b4b4"/>
<rect x="421.06" y="416.00" width="14.60" height="2.01" fill="#f9b4b4"/>
<rect x="421.06" y="417.66" width="14.60" height="3.06" fill="#9494f6"/>
<rect x="421.06" y="423.12" width="14.60" height="2.27" fill="#cccccc"/>
<rect x="421.06" y="425.66" width="14.60" height="3.77" fill="#cccccc"/>
<rect x="421.06" y="430.80" width="14.60" height="2.27" fill="#cccccc"/>
<rect x="421.06" y="435.71" width="14.60" height="1.79" fill="#cccccc"/>
<rect x="421.06" y="439.58" width="14.60" height="2.27" fill="#cccccc"/>
<rect x="421.06" y="391.80" width="14.60" height="50.00" fill="url(#shade)"/>
</g>
<path d="M421.06,396.80 C421.06,394.04 423.67,391.80 426.90,391.80 L429.82,391.80 C433.05,391.80 435.66,394.04 435.66,396.80 L435.66,412.40 C435.66,414.39 433.05,416.00 429.82,416.00 L426.90,416.00 C423.67,416.00 421.06,414.39 421.06,412.40 Z" fill="none" stroke="#2a2a2a" stroke-width="0.8"/>
<path d="M421.06,419.60 C421.06,417.61 423.67,416.00 426.90,416.00 L429.82,416.00 C433.05,416.00 435.66,417.61 435.66,419.60 L435.66,436.80 C435.66,439.56 433.05,441.80 429.82,441.80 L426.90,441.80 C423.67,441.80 421.06,439.56 421.06,436.80 Z" fill="none" stroke="#2a2a2a" stroke-width="0.8"/>
<text x="428.36" y="458.80" text-anchor="middle" fill="#111" stroke="#111" style="font-size:10.6px;stroke-width:0.18px">19</text>
<g clip-path="url(#cp19)">
<rect x="442.28" y="396.20" width="14.60" height="45.60" fill="#fff"/>
<rect x="442.28" y="399.72" width="14.60" height="2.88" fill="#555555"/>
<rect x="442.28" y="404.56" width="14.60" height="4.06" fill="#555555"/>
<rect x="442.28" y="410.92" width="14.60" height="0.74" fill="#cccccc"/>
<rect x="442.28" y="413.59" width="14.60" height="1.66" fill="#f9b4b4"/>
<rect x="442.28" y="415.20" width="14.60" height="1.77" fill="#f9b4b4"/>
<rect x="442.28" y="418.65" width="14.60" height="1.77" fill="#cccccc"/>
<rect x="442.28" y="422.77" width="14.60" height="3.12" fill="#555555"/>
<rect x="442.28" y="426.14" width="14.60" height="3.27" fill="#cccccc"/>
<rect x="442.28" y="431.91" width="14.60" height="3.95" fill="#555555"/>
<rect x="442.28" y="436.93" width="14.60" height="1.47" fill="#999999"/>
<rect x="442.28" y="396.20" width="14.60" height="45.60" fill="url(#shade)"/>
</g>
<path d="M442.28,401.20 C442.28,398.44 444.89,396.20 448.12,396.20 L451.04,396.20 C454.27,396.20 456.88,398.44 456.88,401.20 L456.88,411.60 C456.88,413.59 454.27,415.20 451.04,415.20 L448.12,415.20 C444.89,415.20 442.28,413.59 442.28,411.60 Z" fill="none" stroke="#2a2a2a" stroke-width="0.8"/>
<path d="M442.28,418.80 C442.28,416.81 444.89,415.20 448.12,415.20 L451.04,415.20 C454.27,415.20 456.88,416.81 456.88,418.80 L456.88,436.80 C456.88,439.56 454.27,441.80 451.04,441.80 L448.12,441.80 C444.89,441.80 442.28,439.56 442.28,436.80 Z" fill="none" stroke="#2a2a2a" stroke-width="0.8"/>
<text x="449.58" y="458.80" text-anchor="middle" fill="#111" stroke="#111" style="font-size:10.6px;stroke-width:0.18px">20</text>
<g clip-path="url(#cp20)">
<rect x="463.50" y="403.00" width="14.60" height="38.80" fill="#fff"/>
<rect x="463.50" y="403.00" width="14.60" height="3.13" fill="#9494f6"/>
<rect x="463.50" y="406.08" width="14.60" height="4.44" fill="#6363f0"/>
<rect x="463.50" y="410.47" width="14.60" height="4.55" fill="#9494f6"/>
<rect x="463.50" y="414.67" width="14.60" height="2.88" fill="#f9b4b4"/>
<rect x="463.50" y="417.50" width="14.60" height="1.12" fill="#f9b4b4"/>
<rect x="463.50" y="419.73" width="14.60" height="5.34" fill="#000000"/>
<rect x="463.50" y="426.97" width="14.60" height="3.32" fill="#555555"/>
<rect x="463.50" y="432.89" width="14.60" height="0.82" fill="#999999"/>
<rect x="463.50" y="434.98" width="14.60" height="2.35" fill="#999999"/>
<rect x="463.50" y="403.00" width="14.60" height="38.80" fill="url(#shade)"/>
</g>
<path d="M463.50,408.00 C463.50,405.24 466.11,403.00 469.34,403.00 L472.26,403.00 C475.49,403.00 478.10,405.24 478.10,408.00 L478.10,413.90 C478.10,415.89 475.49,417.50 472.26,417.50 L469.34,417.50 C466.11,417.50 463.50,415.89 463.50,413.90 Z" fill="none" stroke="#2a2a2a" stroke-width="0.8"/>
<path d="M463.50,421.10 C463.50,419.11 466.11,417.50 469.34,417.50 L472.26,417.50 C475.49,417.50 478.10,419.11 478.10,421.10 L478.10,436.80 C478.10,439.56 475.49,441.80 472.26,441.80 L469.34,441.80 C466.11,441.80 463.50,439.56 463.50,436.80 Z" fill="none" stroke="#2a2a2a" stroke-width="0.8"/>
<text x="470.80" y="458.80" text-anchor="middle" fill="#111" stroke="#111" style="font-size:10.6px;stroke-width:0.18px">21</text>
<g clip-path="url(#cp21)">
<rect x="484.72" y="400.40" width="14.60" height="41.40" fill="#fff"/>
<rect x="484.72" y="400.40" width="14.60" height="3.38" fill="#9494f6"/>
<rect x="484.72" y="403.73" width="14.60" height="4.00" fill="#6363f0"/>
<rect x="484.72" y="407.68" width="14.60" height="3.47" fill="#9494f6"/>
<rect x="484.72" y="410.81" width="14.60" height="2.54" fill="#f9b4b4"/>
<rect x="484.72" y="413.30" width="14.60" height="2.84" fill="#f9b4b4"/>
<rect x="484.72" y="419.14" width="14.60" height="1.06" fill="#cccccc"/>
<rect x="484.72" y="422.02" width="14.60" height="2.93" fill="#999999"/>
<rect x="484.72" y="426.93" width="14.60" height="4.25" fill="#999999"/>
<rect x="484.72" y="433.78" width="14.60" height="2.54" fill="#999999"/>
<rect x="484.72" y="439.54" width="14.60" height="0.83" fill="#999999"/>
<rect x="484.72" y="400.40" width="14.60" height="41.40" fill="url(#shade)"/>
</g>
<path d="M484.72,405.40 C484.72,402.64 487.33,400.40 490.56,400.40 L493.48,400.40 C496.71,400.40 499.32,402.64 499.32,405.40 L499.32,409.70 C499.32,411.69 496.71,413.30 493.48,413.30 L490.56,413.30 C487.33,413.30 484.72,411.69 484.72,409.70 Z" fill="none" stroke="#2a2a2a" stroke-width="0.8"/>
<path d="M484.72,416.90 C484.72,414.91 487.33,413.30 490.56,413.30 L493.48,413.30 C496.71,413.30 499.32,414.91 499.32,416.90 L499.32,436.80 C499.32,439.56 496.71,441.80 493.48,441.80 L490.56,441.80 C487.33,441.80 484.72,439.56 484.72,436.80 Z" fill="none" stroke="#2a2a2a" stroke-width="0.8"/>
<text x="492.02" y="458.80" text-anchor="middle" fill="#111" stroke="#111" style="font-size:10.6px;stroke-width:0.18px">22</text>
<g clip-path="url(#cp22)">
<rect x="505.94" y="336.70" width="14.60" height="105.10" fill="#fff"/>
<rect x="505.94" y="339.56" width="14.60" height="1.18" fill="#999999"/>
<rect x="505.94" y="343.02" width="14.60" height="5.10" fill="#999999"/>
<rect x="505.94" y="349.53" width="14.60" height="1.78" fill="#999999"/>
<rect x="505.94" y="353.26" width="14.60" height="2.98" fill="#000000"/>
<rect x="505.94" y="357.65" width="14.60" height="4.11" fill="#000000"/>
<rect x="505.94" y="364.90" width="14.60" height="2.71" fill="#555555"/>
<rect x="505.94" y="369.82" width="14.60" height="3.38" fill="#cccccc"/>
<rect x="505.94" y="375.04" width="14.60" height="2.01" fill="#f9b4b4"/>
<rect x="505.94" y="377.00" width="14.60" height="1.99" fill="#f9b4b4"/>
<rect x="505.94" y="379.74" width="14.60" height="2.24" fill="#999999"/>
<rect x="505.94" y="384.66" width="14.60" height="1.49" fill="#999999"/>
<rect x="505.94" y="387.54" width="14.60" height="5.93" fill="#000000"/>
<rect x="505.94" y="394.52" width="14.60" height="3.88" fill="#000000"/>
<rect x="505.94" y="399.51" width="14.60" height="3.33" fill="#555555"/>
<rect x="505.94" y="405.74" width="14.60" height="0.80" fill="#999999"/>
<rect x="505.94" y="409.91" width="14.60" height="5.39" fill="#555555"/>
<rect x="505.94" y="418.26" width="14.60" height="5.39" fill="#000000"/>
<rect x="505.94" y="424.76" width="14.60" height="2.24" fill="#cccccc"/>
<rect x="505.94" y="429.96" width="14.60" height="1.62" fill="#555555"/>
<rect x="505.94" y="432.77" width="14.60" height="3.47" fill="#000000"/>
<rect x="505.94" y="336.70" width="14.60" height="105.10" fill="url(#shade)"/>
</g>
<path d="M505.94,341.70 C505.94,338.94 508.55,336.70 511.78,336.70 L514.70,336.70 C517.93,336.70 520.54,338.94 520.54,341.70 L520.54,373.40 C520.54,375.39 517.93,377.00 514.70,377.00 L511.78,377.00 C508.55,377.00 505.94,375.39 505.94,373.40 Z" fill="none" stroke="#2a2a2a" stroke-width="0.8"/>
<path d="M505.94,380.60 C505.94,378.61 508.55,377.00 511.78,377.00 L514.70,377.00 C517.93,377.00 520.54,378.61 520.54,380.60 L520.54,436.80 C520.54,439.56 517.93,441.80 514.70,441.80 L511.78,441.80 C508.55,441.80 505.94,439.56 505.94,436.80 Z" fill="none" stroke="#2a2a2a" stroke-width="0.8"/>
<text x="513.24" y="458.80" text-anchor="middle" fill="#111" stroke="#111" style="font-size:10.6px;stroke-width:0.18px">X</text>
<rect x="38.80" y="386.80" width="15.20" height="3.20" fill="none" stroke="#2bb667" stroke-width="1.2"/>
<rect x="102.46" y="346.50" width="15.20" height="3.20" fill="none" stroke="#2bb667" stroke-width="1.2"/>
<rect x="123.68" y="408.30" width="15.20" height="3.20" fill="none" stroke="#2bb667" stroke-width="1.2"/>
<rect x="187.34" y="358.90" width="15.20" height="3.20" fill="none" stroke="#2bb667" stroke-width="1.2"/>
<rect x="272.22" y="404.70" width="15.20" height="3.20" fill="none" stroke="#2bb667" stroke-width="1.2"/>
<rect x="441.98" y="418.60" width="15.20" height="3.20" fill="none" stroke="#ff5aa5" stroke-width="1.2"/>
<text x="27.50" y="254.90" text-anchor="start" fill="#1a1a1a" stroke="#1a1a1a" style="font-size:9.3px;font-style:italic;stroke-width:0.18px">PRRC2C</text>
<text x="97.50" y="299.50" text-anchor="start" fill="#1a1a1a" stroke="#1a1a1a" style="font-size:9.3px;font-style:italic;stroke-width:0.18px">CLOCK</text>
<text x="120.40" y="309.90" text-anchor="start" fill="#1a1a1a" stroke="#1a1a1a" style="font-size:9.3px;font-style:italic;stroke-width:0.18px">MATR3</text>
<text x="188.20" y="336.80" text-anchor="start" fill="#1a1a1a" stroke="#1a1a1a" style="font-size:9.3px;font-style:italic;stroke-width:0.18px">WRN</text>
<text x="267.90" y="347.90" text-anchor="start" fill="#1a1a1a" stroke="#1a1a1a" style="font-size:9.3px;font-style:italic;stroke-width:0.18px">NAP1L1</text>
<text x="439.00" y="391.50" text-anchor="start" fill="#1a1a1a" stroke="#1a1a1a" style="font-size:9.3px;font-style:italic;stroke-width:0.18px">TPX2</text>
<rect x="163.50" y="322.50" width="20.95" height="141.80" fill="none" stroke="#f50a0a" stroke-width="2.9"/>
<rect x="575.30" y="243.20" width="9.50" height="79.93" fill="#fff"/>
<rect x="575.30" y="247.06" width="9.50" height="2.34" fill="#d0d0d0"/>
<rect x="575.30" y="253.26" width="9.50" height="8.96" fill="#000000"/>
<rect x="575.30" y="265.93" width="9.50" height="6.06" fill="#000000"/>
<rect x="575.30" y="278.33" width="9.50" height="3.44" fill="#8a8a8a"/>
<rect x="575.30" y="282.88" width="9.50" height="8.54" fill="#5a5a5a"/>
<rect x="575.30" y="294.45" width="9.50" height="8.40" fill="#5a5a5a"/>
<rect x="575.30" y="305.75" width="9.50" height="4.96" fill="#5a5a5a"/>
<rect x="575.30" y="312.78" width="9.50" height="4.82" fill="#5a5a5a"/>
<rect x="575.30" y="335.51" width="9.50" height="7.16" fill="#8a8a8a"/>
<rect x="575.30" y="349.98" width="9.50" height="12.26" fill="#000000"/>
<rect x="575.30" y="364.72" width="9.50" height="4.00" fill="#5a5a5a"/>
<rect x="575.30" y="371.06" width="9.50" height="7.16" fill="#5a5a5a"/>
<rect x="575.30" y="386.21" width="9.50" height="0.96" fill="#8a8a8a"/>
<rect x="575.30" y="391.17" width="9.50" height="9.92" fill="#5a5a5a"/>
<rect x="575.30" y="404.95" width="9.50" height="5.10" fill="#5a5a5a"/>
<rect x="575.30" y="413.77" width="9.50" height="4.55" fill="#5a5a5a"/>
<rect x="575.30" y="421.21" width="9.50" height="1.65" fill="#d0d0d0"/>
<rect x="575.30" y="425.89" width="9.50" height="7.72" fill="#8a8a8a"/>
<rect x="575.30" y="440.36" width="9.50" height="6.61" fill="#5a5a5a"/>
<rect x="575.30" y="453.44" width="9.50" height="3.44" fill="#d0d0d0"/>
<path d="M575.30,322.93 L575.30,243.20 L584.80,243.20 L584.80,322.93" fill="none" stroke="#333" stroke-width="0.9"/>
<path d="M575.30,328.53 L575.30,462.40 L584.80,462.40 L584.80,328.53" fill="none" stroke="#333" stroke-width="0.9"/>
<path d="M575.30,322.93 L584.80,322.93 L581.25,325.73 L584.80,328.53 L575.30,328.53 L578.85,325.73 Z" fill="#8797ad"/>
<line x1="585.40" y1="245.13" x2="588.00" y2="245.13" stroke="#e6e65a" stroke-width="0.8"/>
<text transform="translate(588.9 246.53) scale(0.5)" fill="#333" style="font-size:8.4px">7p22.3</text>
<line x1="585.40" y1="248.23" x2="588.00" y2="248.23" stroke="#e6e65a" stroke-width="0.8"/>
<text transform="translate(588.9 249.63) scale(0.5)" fill="#333" style="font-size:8.4px">7p22.2</text>
<line x1="585.40" y1="251.33" x2="588.00" y2="251.33" stroke="#e6e65a" stroke-width="0.8"/>
<text transform="translate(588.9 252.73) scale(0.5)" fill="#333" style="font-size:8.4px">7p22.1</text>
<line x1="585.40" y1="257.74" x2="588.00" y2="257.74" stroke="#e6e65a" stroke-width="0.8"/>
<text transform="translate(588.9 259.14) scale(0.5)" fill="#333" style="font-size:8.4px">7p21.3</text>
<line x1="585.40" y1="264.07" x2="588.00" y2="264.07" stroke="#e6e65a" stroke-width="0.8"/>
<text transform="translate(588.9 265.47) scale(0.5)" fill="#333" style="font-size:8.4px">7p21.2</text>
<line x1="585.40" y1="268.96" x2="588.00" y2="268.96" stroke="#e6e65a" stroke-width="0.8"/>
<text transform="translate(588.9 270.36) scale(0.5)" fill="#333" style="font-size:8.4px">7p21.1</text>
<line x1="585.40" y1="275.16" x2="588.00" y2="275.16" stroke="#e6e65a" stroke-width="0.8"/>
<text transform="translate(588.9 276.56) scale(0.5)" fill="#333" style="font-size:8.4px">7p15.3</text>
<line x1="585.40" y1="280.05" x2="588.00" y2="280.05" stroke="#e6e65a" stroke-width="0.8"/>
<text transform="translate(588.9 281.45) scale(0.5)" fill="#333" style="font-size:8.4px">7p15.2</text>
<line x1="585.40" y1="282.33" x2="588.00" y2="282.33" stroke="#e6e65a" stroke-width="0.8"/>
<text transform="translate(588.9 283.73) scale(0.5)" fill="#333" style="font-size:8.4px">7p15.1</text>
<line x1="585.40" y1="287.15" x2="588.00" y2="287.15" stroke="#e6e65a" stroke-width="0.8"/>
<text transform="translate(588.9 288.55) scale(0.5)" fill="#333" style="font-size:8.4px">7p14.3</text>
<line x1="585.40" y1="292.94" x2="588.00" y2="292.94" stroke="#e6e65a" stroke-width="0.8"/>
<text transform="translate(588.9 294.34) scale(0.5)" fill="#333" style="font-size:8.4px">7p14.2</text>
<line x1="585.40" y1="298.65" x2="588.00" y2="298.65" stroke="#e6e65a" stroke-width="0.8"/>
<text transform="translate(588.9 300.05) scale(0.5)" fill="#333" style="font-size:8.4px">7p14.1</text>
<line x1="585.40" y1="304.30" x2="588.00" y2="304.30" stroke="#e6e65a" stroke-width="0.8"/>
<text transform="translate(588.9 305.70) scale(0.5)" fill="#333" style="font-size:8.4px">7p13</text>
<line x1="585.40" y1="308.23" x2="588.00" y2="308.23" stroke="#e6e65a" stroke-width="0.8"/>
<text transform="translate(588.9 309.63) scale(0.5)" fill="#333" style="font-size:8.4px">7p12.3</text>
<line x1="585.40" y1="311.74" x2="588.00" y2="311.74" stroke="#e6e65a" stroke-width="0.8"/>
<text transform="translate(588.9 313.14) scale(0.5)" fill="#333" style="font-size:8.4px">7p12.2</text>
<line x1="585.40" y1="315.19" x2="588.00" y2="315.19" stroke="#e6e65a" stroke-width="0.8"/>
<text transform="translate(588.9 316.59) scale(0.5)" fill="#333" style="font-size:8.4px">7p12.1</text>
<line x1="585.40" y1="320.35" x2="588.00" y2="320.35" stroke="#e6e65a" stroke-width="0.8"/>
<text transform="translate(588.9 321.75) scale(0.5)" fill="#333" style="font-size:8.4px">7p11.2</text>
<line x1="585.40" y1="324.42" x2="588.00" y2="324.42" stroke="#e6e65a" stroke-width="0.8"/>
<text transform="translate(588.9 325.82) scale(0.5)" fill="#333" style="font-size:8.4px">7p11.1</text>
<line x1="585.40" y1="326.97" x2="588.00" y2="326.97" stroke="#e6e65a" stroke-width="0.8"/>
<text transform="translate(588.9 328.37) scale(0.5)" fill="#333" style="font-size:8.4px">7q11.1</text>
<line x1="585.40" y1="331.86" x2="588.00" y2="331.86" stroke="#e6e65a" stroke-width="0.8"/>
<text transform="translate(588.9 333.26) scale(0.5)" fill="#333" style="font-size:8.4px">7q11.21</text>
<line x1="585.40" y1="339.09" x2="588.00" y2="339.09" stroke="#e6e65a" stroke-width="0.8"/>
<text transform="translate(588.9 340.49) scale(0.5)" fill="#333" style="font-size:8.4px">7q11.22</text>
<line x1="585.40" y1="346.32" x2="588.00" y2="346.32" stroke="#e6e65a" stroke-width="0.8"/>
<text transform="translate(588.9 347.72) scale(0.5)" fill="#333" style="font-size:8.4px">7q11.23</text>
<line x1="585.40" y1="356.11" x2="588.00" y2="356.11" stroke="#e6e65a" stroke-width="0.8"/>
<text transform="translate(588.9 357.51) scale(0.5)" fill="#333" style="font-size:8.4px">7q21.11</text>
<line x1="585.40" y1="363.48" x2="588.00" y2="363.48" stroke="#e6e65a" stroke-width="0.8"/>
<text transform="translate(588.9 364.88) scale(0.5)" fill="#333" style="font-size:8.4px">7q21.12</text>
<line x1="585.40" y1="366.72" x2="588.00" y2="366.72" stroke="#e6e65a" stroke-width="0.8"/>
<text transform="translate(588.9 368.12) scale(0.5)" fill="#333" style="font-size:8.4px">7q21.13</text>
<line x1="585.40" y1="369.88" x2="588.00" y2="369.88" stroke="#e6e65a" stroke-width="0.8"/>
<text transform="translate(588.9 371.28) scale(0.5)" fill="#333" style="font-size:8.4px">7q21.2</text>
<line x1="585.40" y1="374.64" x2="588.00" y2="374.64" stroke="#e6e65a" stroke-width="0.8"/>
<text transform="translate(588.9 376.04) scale(0.5)" fill="#333" style="font-size:8.4px">7q21.3</text>
<line x1="585.40" y1="382.21" x2="588.00" y2="382.21" stroke="#e6e65a" stroke-width="0.8"/>
<text transform="translate(588.9 383.61) scale(0.5)" fill="#333" style="font-size:8.4px">7q22.1</text>
<line x1="585.40" y1="386.69" x2="588.00" y2="386.69" stroke="#e6e65a" stroke-width="0.8"/>
<text transform="translate(588.9 388.09) scale(0.5)" fill="#333" style="font-size:8.4px">7q22.2</text>
<line x1="585.40" y1="389.17" x2="588.00" y2="389.17" stroke="#e6e65a" stroke-width="0.8"/>
<text transform="translate(588.9 390.57) scale(0.5)" fill="#333" style="font-size:8.4px">7q22.3</text>
<line x1="585.40" y1="396.13" x2="588.00" y2="396.13" stroke="#e6e65a" stroke-width="0.8"/>
<text transform="translate(588.9 397.53) scale(0.5)" fill="#333" style="font-size:8.4px">7q31.1</text>
<line x1="585.40" y1="403.02" x2="588.00" y2="403.02" stroke="#e6e65a" stroke-width="0.8"/>
<text transform="translate(588.9 404.42) scale(0.5)" fill="#333" style="font-size:8.4px">7q31.2</text>
<line x1="585.40" y1="407.50" x2="588.00" y2="407.50" stroke="#e6e65a" stroke-width="0.8"/>
<text transform="translate(588.9 408.90) scale(0.5)" fill="#333" style="font-size:8.4px">7q31.31</text>
<line x1="585.40" y1="411.91" x2="588.00" y2="411.91" stroke="#e6e65a" stroke-width="0.8"/>
<text transform="translate(588.9 413.31) scale(0.5)" fill="#333" style="font-size:8.4px">7q31.32</text>
<line x1="585.40" y1="416.04" x2="588.00" y2="416.04" stroke="#e6e65a" stroke-width="0.8"/>
<text transform="translate(588.9 417.44) scale(0.5)" fill="#333" style="font-size:8.4px">7q31.33</text>
<line x1="585.40" y1="419.76" x2="588.00" y2="419.76" stroke="#e6e65a" stroke-width="0.8"/>
<text transform="translate(588.9 421.16) scale(0.5)" fill="#333" style="font-size:8.4px">7q32.1</text>
<line x1="585.40" y1="422.03" x2="588.00" y2="422.03" stroke="#e6e65a" stroke-width="0.8"/>
<text transform="translate(588.9 423.43) scale(0.5)" fill="#333" style="font-size:8.4px">7q32.2</text>
<line x1="585.40" y1="424.37" x2="588.00" y2="424.37" stroke="#e6e65a" stroke-width="0.8"/>
<text transform="translate(588.9 425.77) scale(0.5)" fill="#333" style="font-size:8.4px">7q32.3</text>
<line x1="585.40" y1="429.75" x2="588.00" y2="429.75" stroke="#e6e65a" stroke-width="0.8"/>
<text transform="translate(588.9 431.15) scale(0.5)" fill="#333" style="font-size:8.4px">7q33</text>
<line x1="585.40" y1="436.98" x2="588.00" y2="436.98" stroke="#e6e65a" stroke-width="0.8"/>
<text transform="translate(588.9 438.38) scale(0.5)" fill="#333" style="font-size:8.4px">7q34</text>
<line x1="585.40" y1="443.66" x2="588.00" y2="443.66" stroke="#e6e65a" stroke-width="0.8"/>
<text transform="translate(588.9 445.06) scale(0.5)" fill="#333" style="font-size:8.4px">7q35</text>
<line x1="585.40" y1="450.21" x2="588.00" y2="450.21" stroke="#e6e65a" stroke-width="0.8"/>
<text transform="translate(588.9 451.61) scale(0.5)" fill="#333" style="font-size:8.4px">7q36.1</text>
<line x1="585.40" y1="455.17" x2="588.00" y2="455.17" stroke="#e6e65a" stroke-width="0.8"/>
<text transform="translate(588.9 456.57) scale(0.5)" fill="#333" style="font-size:8.4px">7q36.2</text>
<line x1="585.40" y1="459.64" x2="588.00" y2="459.64" stroke="#e6e65a" stroke-width="0.8"/>
<text transform="translate(588.9 461.04) scale(0.5)" fill="#333" style="font-size:8.4px">7q36.3</text>
<polyline points="574.80,243.80 570.30,243.80 570.30,327.00 574.80,327.00" stroke="#111" stroke-width="1.0" fill="none"/>
<polyline points="570.30,327.00 570.30,462.40 574.80,462.40" stroke="#111" stroke-width="1.0" fill="none"/>
<line x1="566.30" y1="285.40" x2="570.30" y2="285.40" stroke="#111" stroke-width="1.0"/>
<line x1="566.30" y1="395.00" x2="570.30" y2="395.00" stroke="#111" stroke-width="1.0"/>
<text x="564.80" y="288.50" text-anchor="end" fill="#111" stroke="#111" style="font-size:9.5px;stroke-width:0.18px">p</text>
<text x="564.80" y="397.60" text-anchor="end" fill="#111" stroke="#111" style="font-size:9.5px;stroke-width:0.18px">q</text>
<rect x="574.40" y="266.60" width="10.40" height="7.00" fill="none" stroke="#2bb667" stroke-width="1.3"/>
<rect x="574.40" y="343.50" width="10.40" height="7.30" fill="none" stroke="#2bb667" stroke-width="1.3"/>
<rect x="574.40" y="362.20" width="10.40" height="4.10" fill="none" stroke="#2bb667" stroke-width="1.3"/>
<rect x="574.40" y="378.50" width="10.40" height="6.60" fill="none" stroke="#2bb667" stroke-width="1.3"/>
<rect x="574.40" y="387.30" width="10.40" height="5.20" fill="none" stroke="#2bb667" stroke-width="1.3"/>
<rect x="574.40" y="418.30" width="10.40" height="3.20" fill="none" stroke="#2bb667" stroke-width="1.3"/>
<rect x="574.40" y="421.50" width="10.40" height="3.10" fill="none" stroke="#ff5aa5" stroke-width="1.3"/>
<rect x="574.40" y="427.30" width="10.40" height="6.70" fill="none" stroke="#2bb667" stroke-width="1.3"/>
<line x1="584.80" y1="269.60" x2="613.40" y2="269.20" stroke="#2bb667" stroke-width="1.3"/>
<line x1="584.80" y1="346.20" x2="613.40" y2="314.80" stroke="#2bb667" stroke-width="1.3"/>
<line x1="584.80" y1="364.20" x2="613.40" y2="352.20" stroke="#2bb667" stroke-width="1.3"/>
<line x1="584.80" y1="382.30" x2="613.40" y2="382.30" stroke="#2bb667" stroke-width="1.3"/>
<line x1="584.80" y1="390.30" x2="613.40" y2="404.40" stroke="#2bb667" stroke-width="1.3"/>
<line x1="584.80" y1="420.00" x2="613.40" y2="421.20" stroke="#2bb667" stroke-width="1.3"/>
<line x1="584.80" y1="423.20" x2="613.40" y2="437.30" stroke="#ff5aa5" stroke-width="1.3"/>
<line x1="584.80" y1="430.60" x2="613.40" y2="454.30" stroke="#2bb667" stroke-width="1.3"/>
<rect x="613.40" y="262.20" width="35.80" height="13.80" fill="#fff" stroke="#2bb667" stroke-width="1.3"/>
<text x="617.20" y="272.20" text-anchor="start" fill="#1a1a1a" stroke="#1a1a1a" style="font-size:9.3px;font-style:italic;stroke-width:0.18px">ITGB8</text>
<rect x="613.40" y="300.70" width="36.20" height="27.30" fill="#fff" stroke="#2bb667" stroke-width="1.3"/>
<text x="617.40" y="309.50" text-anchor="start" fill="#1a1a1a" stroke="#1a1a1a" style="font-size:9.3px;font-style:italic;stroke-width:0.18px">GTF2I</text>
<text x="617.40" y="323.70" text-anchor="start" fill="#1a1a1a" stroke="#1a1a1a" style="font-size:9.3px;font-style:italic;stroke-width:0.18px">PHTF2</text>
<rect x="613.40" y="334.70" width="55.00" height="34.00" fill="#fff" stroke="#2bb667" stroke-width="1.3"/>
<text x="617.40" y="346.80" text-anchor="start" fill="#ff0000" stroke="#ff0000" style="font-size:9.3px;font-style:italic;stroke-width:0.1px">ABCB1</text>
<text x="617.40" y="361.40" text-anchor="start" fill="#1a1a1a" stroke="#1a1a1a" style="font-size:9.3px;font-style:italic;stroke-width:0.18px">SLC25A40</text>
<rect x="613.40" y="375.50" width="45.40" height="13.60" fill="#fff" stroke="#2bb667" stroke-width="1.3"/>
<text x="617.30" y="385.50" text-anchor="start" fill="#1a1a1a" stroke="#1a1a1a" style="font-size:9.3px;font-style:italic;stroke-width:0.18px">ARPC1B</text>
<rect x="613.40" y="396.70" width="41.00" height="13.50" fill="#fff" stroke="#2bb667" stroke-width="1.3"/>
<text x="617.30" y="406.60" text-anchor="start" fill="#1a1a1a" stroke="#1a1a1a" style="font-size:9.3px;font-style:italic;stroke-width:0.18px">KMT2E</text>
<rect x="613.40" y="414.50" width="35.30" height="14.10" fill="#fff" stroke="#2bb667" stroke-width="1.3"/>
<text x="617.50" y="425.00" text-anchor="start" fill="#1a1a1a" stroke="#1a1a1a" style="font-size:9.3px;font-style:italic;stroke-width:0.18px">CALU</text>
<rect x="613.40" y="431.70" width="35.30" height="13.40" fill="#fff" stroke="#ff5aa5" stroke-width="1.3"/>
<text x="619.00" y="441.60" text-anchor="start" fill="#1a1a1a" stroke="#1a1a1a" style="font-size:9.3px;font-style:italic;stroke-width:0.18px">NRF1</text>
<rect x="613.40" y="448.70" width="41.00" height="13.70" fill="#fff" stroke="#2bb667" stroke-width="1.3"/>
<text x="617.50" y="458.60" text-anchor="start" fill="#1a1a1a" stroke="#1a1a1a" style="font-size:9.3px;font-style:italic;stroke-width:0.18px">CNOT4</text>
<line x1="42.00" y1="568.45" x2="422.30" y2="568.45" stroke="#f2f2f2" stroke-width="0.6"/>
<line x1="42.00" y1="543.15" x2="422.30" y2="543.15" stroke="#f2f2f2" stroke-width="0.6"/>
<line x1="42.00" y1="517.85" x2="422.30" y2="517.85" stroke="#f2f2f2" stroke-width="0.6"/>
<line x1="42.00" y1="492.55" x2="422.30" y2="492.55" stroke="#f2f2f2" stroke-width="0.6"/>
<line x1="42.00" y1="581.10" x2="422.30" y2="581.10" stroke="#e6e6e6" stroke-width="0.8"/>
<line x1="42.00" y1="555.80" x2="422.30" y2="555.80" stroke="#e6e6e6" stroke-width="0.8"/>
<line x1="42.00" y1="530.50" x2="422.30" y2="530.50" stroke="#e6e6e6" stroke-width="0.8"/>
<line x1="42.00" y1="505.20" x2="422.30" y2="505.20" stroke="#e6e6e6" stroke-width="0.8"/>
<line x1="51.05" y1="487.30" x2="51.05" y2="585.10" stroke="#e6e6e6" stroke-width="0.8"/>
<line x1="66.16" y1="487.30" x2="66.16" y2="585.10" stroke="#e6e6e6" stroke-width="0.8"/>
<line x1="81.28" y1="487.30" x2="81.28" y2="585.10" stroke="#e6e6e6" stroke-width="0.8"/>
<line x1="96.39" y1="487.30" x2="96.39" y2="585.10" stroke="#e6e6e6" stroke-width="0.8"/>
<line x1="111.50" y1="487.30" x2="111.50" y2="585.10" stroke="#e6e6e6" stroke-width="0.8"/>
<line x1="126.62" y1="487.30" x2="126.62" y2="585.10" stroke="#e6e6e6" stroke-width="0.8"/>
<line x1="141.73" y1="487.30" x2="141.73" y2="585.10" stroke="#e6e6e6" stroke-width="0.8"/>
<line x1="156.84" y1="487.30" x2="156.84" y2="585.10" stroke="#e6e6e6" stroke-width="0.8"/>
<line x1="171.95" y1="487.30" x2="171.95" y2="585.10" stroke="#e6e6e6" stroke-width="0.8"/>
<line x1="187.07" y1="487.30" x2="187.07" y2="585.10" stroke="#e6e6e6" stroke-width="0.8"/>
<line x1="202.18" y1="487.30" x2="202.18" y2="585.10" stroke="#e6e6e6" stroke-width="0.8"/>
<line x1="217.29" y1="487.30" x2="217.29" y2="585.10" stroke="#e6e6e6" stroke-width="0.8"/>
<line x1="232.41" y1="487.30" x2="232.41" y2="585.10" stroke="#e6e6e6" stroke-width="0.8"/>
<line x1="247.52" y1="487.30" x2="247.52" y2="585.10" stroke="#e6e6e6" stroke-width="0.8"/>
<line x1="262.63" y1="487.30" x2="262.63" y2="585.10" stroke="#e6e6e6" stroke-width="0.8"/>
<line x1="277.74" y1="487.30" x2="277.74" y2="585.10" stroke="#e6e6e6" stroke-width="0.8"/>
<line x1="292.86" y1="487.30" x2="292.86" y2="585.10" stroke="#e6e6e6" stroke-width="0.8"/>
<line x1="307.97" y1="487.30" x2="307.97" y2="585.10" stroke="#e6e6e6" stroke-width="0.8"/>
<line x1="323.08" y1="487.30" x2="323.08" y2="585.10" stroke="#e6e6e6" stroke-width="0.8"/>
<line x1="338.20" y1="487.30" x2="338.20" y2="585.10" stroke="#e6e6e6" stroke-width="0.8"/>
<line x1="353.31" y1="487.30" x2="353.31" y2="585.10" stroke="#e6e6e6" stroke-width="0.8"/>
<line x1="368.42" y1="487.30" x2="368.42" y2="585.10" stroke="#e6e6e6" stroke-width="0.8"/>
<line x1="383.54" y1="487.30" x2="383.54" y2="585.10" stroke="#e6e6e6" stroke-width="0.8"/>
<line x1="398.65" y1="487.30" x2="398.65" y2="585.10" stroke="#e6e6e6" stroke-width="0.8"/>
<line x1="413.76" y1="487.30" x2="413.76" y2="585.10" stroke="#e6e6e6" stroke-width="0.8"/>
<rect x="44.40" y="491.62" width="13.30" height="13.58" fill="#4DBBD5"/>
<rect x="44.40" y="505.20" width="13.30" height="75.90" fill="#3C5488"/>
<rect x="59.51" y="539.86" width="13.30" height="7.08" fill="#4DBBD5"/>
<rect x="59.51" y="546.95" width="13.30" height="34.15" fill="#3C5488"/>
<rect x="74.63" y="543.15" width="13.30" height="4.72" fill="#4DBBD5"/>
<rect x="74.63" y="547.87" width="13.30" height="33.23" fill="#3C5488"/>
<rect x="89.74" y="547.87" width="13.30" height="4.05" fill="#4DBBD5"/>
<rect x="89.74" y="551.92" width="13.30" height="29.18" fill="#3C5488"/>
<rect x="104.85" y="555.13" width="13.30" height="3.04" fill="#4DBBD5"/>
<rect x="104.85" y="558.16" width="13.30" height="22.94" fill="#3C5488"/>
<rect x="119.97" y="559.51" width="13.30" height="2.70" fill="#4DBBD5"/>
<rect x="119.97" y="562.21" width="13.30" height="18.89" fill="#3C5488"/>
<rect x="135.08" y="526.62" width="13.30" height="9.45" fill="#E64B35"/>
<rect x="135.08" y="536.07" width="13.30" height="45.03" fill="#00A087"/>
<rect x="150.19" y="527.21" width="13.30" height="9.78" fill="#E64B35"/>
<rect x="150.19" y="536.99" width="13.30" height="44.11" fill="#00A087"/>
<rect x="165.30" y="532.61" width="13.30" height="8.35" fill="#E64B35"/>
<rect x="165.30" y="540.96" width="13.30" height="40.14" fill="#00A087"/>
<rect x="180.42" y="533.11" width="13.30" height="6.07" fill="#E64B35"/>
<rect x="180.42" y="539.19" width="13.30" height="41.91" fill="#00A087"/>
<rect x="195.53" y="537.92" width="13.30" height="14.42" fill="#E64B35"/>
<rect x="195.53" y="552.34" width="13.30" height="28.76" fill="#00A087"/>
<rect x="210.64" y="539.19" width="13.30" height="4.72" fill="#E64B35"/>
<rect x="210.64" y="543.91" width="13.30" height="37.19" fill="#00A087"/>
<rect x="225.76" y="540.11" width="13.30" height="6.75" fill="#E64B35"/>
<rect x="225.76" y="546.86" width="13.30" height="34.24" fill="#00A087"/>
<rect x="240.87" y="543.32" width="13.30" height="5.82" fill="#E64B35"/>
<rect x="240.87" y="549.14" width="13.30" height="31.96" fill="#00A087"/>
<rect x="255.98" y="545.60" width="13.30" height="4.89" fill="#E64B35"/>
<rect x="255.98" y="550.49" width="13.30" height="30.61" fill="#00A087"/>
<rect x="271.09" y="546.02" width="13.30" height="3.96" fill="#E64B35"/>
<rect x="271.09" y="549.98" width="13.30" height="31.12" fill="#00A087"/>
<rect x="286.21" y="546.86" width="13.30" height="4.13" fill="#E64B35"/>
<rect x="286.21" y="550.99" width="13.30" height="30.11" fill="#00A087"/>
<rect x="301.32" y="547.79" width="13.30" height="3.96" fill="#E64B35"/>
<rect x="301.32" y="551.75" width="13.30" height="29.35" fill="#00A087"/>
<rect x="316.43" y="548.21" width="13.30" height="3.71" fill="#E64B35"/>
<rect x="316.43" y="551.92" width="13.30" height="29.18" fill="#00A087"/>
<rect x="331.55" y="549.98" width="13.30" height="5.06" fill="#E64B35"/>
<rect x="331.55" y="555.04" width="13.30" height="26.06" fill="#00A087"/>
<rect x="346.66" y="549.98" width="13.30" height="5.65" fill="#E64B35"/>
<rect x="346.66" y="555.63" width="13.30" height="25.47" fill="#00A087"/>
<rect x="361.77" y="551.08" width="13.30" height="5.90" fill="#E64B35"/>
<rect x="361.77" y="556.98" width="13.30" height="24.12" fill="#00A087"/>
<rect x="376.89" y="556.47" width="13.30" height="3.20" fill="#E64B35"/>
<rect x="376.89" y="559.68" width="13.30" height="21.42" fill="#00A087"/>
<rect x="392.00" y="573.85" width="13.30" height="1.18" fill="#E64B35"/>
<rect x="392.00" y="575.03" width="13.30" height="6.07" fill="#00A087"/>
<rect x="407.11" y="573.85" width="13.30" height="1.43" fill="#E64B35"/>
<rect x="407.11" y="575.28" width="13.30" height="5.82" fill="#00A087"/>
<rect x="42.00" y="487.30" width="380.30" height="97.80" fill="none" stroke="#333" stroke-width="1.0"/>
<line x1="39.30" y1="581.10" x2="42.00" y2="581.10" stroke="#333" stroke-width="0.9"/>
<text x="37.50" y="583.90" text-anchor="end" fill="#222" stroke="#222" style="font-size:10.6px;stroke-width:0.18px">0</text>
<line x1="39.30" y1="555.80" x2="42.00" y2="555.80" stroke="#333" stroke-width="0.9"/>
<text x="37.50" y="558.60" text-anchor="end" fill="#222" stroke="#222" style="font-size:10.6px;stroke-width:0.18px">300</text>
<line x1="39.30" y1="530.50" x2="42.00" y2="530.50" stroke="#333" stroke-width="0.9"/>
<text x="37.50" y="533.30" text-anchor="end" fill="#222" stroke="#222" style="font-size:10.6px;stroke-width:0.18px">600</text>
<line x1="39.30" y1="505.20" x2="42.00" y2="505.20" stroke="#333" stroke-width="0.9"/>
<text x="37.50" y="508.00" text-anchor="end" fill="#222" stroke="#222" style="font-size:10.6px;stroke-width:0.18px">900</text>
<line x1="51.05" y1="585.10" x2="51.05" y2="587.80" stroke="#333" stroke-width="0.9"/>
<text x="53.55" y="593.50" text-anchor="end" fill="#222" stroke="#222" style="font-size:10.6px;stroke-width:0.18px" transform="rotate(-90 53.55 593.50)">AOCS-120-3-6</text>
<line x1="66.16" y1="585.10" x2="66.16" y2="587.80" stroke="#333" stroke-width="0.9"/>
<text x="68.66" y="593.50" text-anchor="end" fill="#222" stroke="#222" style="font-size:10.6px;stroke-width:0.18px" transform="rotate(-90 68.66 593.50)">AOCS-150-3-1</text>
<line x1="81.28" y1="585.10" x2="81.28" y2="587.80" stroke="#333" stroke-width="0.9"/>
<text x="83.78" y="593.50" text-anchor="end" fill="#222" stroke="#222" style="font-size:10.6px;stroke-width:0.18px" transform="rotate(-90 83.78 593.50)">AOCS-150-8-X</text>
<line x1="96.39" y1="585.10" x2="96.39" y2="587.80" stroke="#333" stroke-width="0.9"/>
<text x="98.89" y="593.50" text-anchor="end" fill="#222" stroke="#222" style="font-size:10.6px;stroke-width:0.18px" transform="rotate(-90 98.89 593.50)">AOCS-135-8-X</text>
<line x1="111.50" y1="585.10" x2="111.50" y2="587.80" stroke="#333" stroke-width="0.9"/>
<text x="114.00" y="593.50" text-anchor="end" fill="#222" stroke="#222" style="font-size:10.6px;stroke-width:0.18px" transform="rotate(-90 114.00 593.50)">AOCS-117-3-3</text>
<line x1="126.62" y1="585.10" x2="126.62" y2="587.80" stroke="#333" stroke-width="0.9"/>
<text x="129.12" y="593.50" text-anchor="end" fill="#222" stroke="#222" style="font-size:10.6px;stroke-width:0.18px" transform="rotate(-90 129.12 593.50)">AOCS-092-3-3</text>
<line x1="141.73" y1="585.10" x2="141.73" y2="587.80" stroke="#333" stroke-width="0.9"/>
<text x="144.23" y="593.50" text-anchor="end" fill="#222" stroke="#222" style="font-size:10.6px;stroke-width:0.18px" transform="rotate(-90 144.23 593.50)">AOCS-064-3-3</text>
<line x1="156.84" y1="585.10" x2="156.84" y2="587.80" stroke="#333" stroke-width="0.9"/>
<text x="159.34" y="593.50" text-anchor="end" fill="#222" stroke="#222" style="font-size:10.6px;stroke-width:0.18px" transform="rotate(-90 159.34 593.50)">AOCS-088-3-8</text>
<line x1="171.95" y1="585.10" x2="171.95" y2="587.80" stroke="#333" stroke-width="0.9"/>
<text x="174.45" y="593.50" text-anchor="end" fill="#222" stroke="#222" style="font-size:10.6px;stroke-width:0.18px" transform="rotate(-90 174.45 593.50)">AOCS-094-6-X</text>
<line x1="187.07" y1="585.10" x2="187.07" y2="587.80" stroke="#333" stroke-width="0.9"/>
<text x="189.57" y="593.50" text-anchor="end" fill="#222" stroke="#222" style="font-size:10.6px;stroke-width:0.18px" transform="rotate(-90 189.57 593.50)">AOCS-034-3-8</text>
<line x1="202.18" y1="585.10" x2="202.18" y2="587.80" stroke="#333" stroke-width="0.9"/>
<text x="204.68" y="593.50" text-anchor="end" fill="#222" stroke="#222" style="font-size:10.6px;stroke-width:0.18px" transform="rotate(-90 204.68 593.50)">AOCS-142-3-5</text>
<line x1="217.29" y1="585.10" x2="217.29" y2="587.80" stroke="#333" stroke-width="0.9"/>
<text x="219.79" y="593.50" text-anchor="end" fill="#222" stroke="#222" style="font-size:10.6px;stroke-width:0.18px" transform="rotate(-90 219.79 593.50)">AOCS-093-3-6</text>
<line x1="232.41" y1="585.10" x2="232.41" y2="587.80" stroke="#333" stroke-width="0.9"/>
<text x="234.91" y="593.50" text-anchor="end" fill="#222" stroke="#222" style="font-size:10.6px;stroke-width:0.18px" transform="rotate(-90 234.91 593.50)">AOCS-091-3-0</text>
<line x1="247.52" y1="585.10" x2="247.52" y2="587.80" stroke="#333" stroke-width="0.9"/>
<text x="250.02" y="593.50" text-anchor="end" fill="#222" stroke="#222" style="font-size:10.6px;stroke-width:0.18px" transform="rotate(-90 250.02 593.50)">AOCS-086-3-2</text>
<line x1="262.63" y1="585.10" x2="262.63" y2="587.80" stroke="#333" stroke-width="0.9"/>
<text x="265.13" y="593.50" text-anchor="end" fill="#222" stroke="#222" style="font-size:10.6px;stroke-width:0.18px" transform="rotate(-90 265.13 593.50)">AOCS-134-3-9</text>
<line x1="277.74" y1="585.10" x2="277.74" y2="587.80" stroke="#333" stroke-width="0.9"/>
<text x="280.24" y="593.50" text-anchor="end" fill="#222" stroke="#222" style="font-size:10.6px;stroke-width:0.18px" transform="rotate(-90 280.24 593.50)">AOCS-135-3-1</text>
<line x1="292.86" y1="585.10" x2="292.86" y2="587.80" stroke="#333" stroke-width="0.9"/>
<text x="295.36" y="593.50" text-anchor="end" fill="#222" stroke="#222" style="font-size:10.6px;stroke-width:0.18px" transform="rotate(-90 295.36 593.50)">AOCS-065-3-6</text>
<line x1="307.97" y1="585.10" x2="307.97" y2="587.80" stroke="#333" stroke-width="0.9"/>
<text x="310.47" y="593.50" text-anchor="end" fill="#222" stroke="#222" style="font-size:10.6px;stroke-width:0.18px" transform="rotate(-90 310.47 593.50)">AOCS-095-3-1</text>
<line x1="323.08" y1="585.10" x2="323.08" y2="587.80" stroke="#333" stroke-width="0.9"/>
<text x="325.58" y="593.50" text-anchor="end" fill="#222" stroke="#222" style="font-size:10.6px;stroke-width:0.18px" transform="rotate(-90 325.58 593.50)">AOCS-155-3-5</text>
<line x1="338.20" y1="585.10" x2="338.20" y2="587.80" stroke="#333" stroke-width="0.9"/>
<text x="340.70" y="593.50" text-anchor="end" fill="#222" stroke="#222" style="font-size:10.6px;stroke-width:0.18px" transform="rotate(-90 340.70 593.50)">AOCS-137-3-7</text>
<line x1="353.31" y1="585.10" x2="353.31" y2="587.80" stroke="#333" stroke-width="0.9"/>
<text x="355.81" y="593.50" text-anchor="end" fill="#222" stroke="#222" style="font-size:10.6px;stroke-width:0.18px" transform="rotate(-90 355.81 593.50)">AOCS-138-3-X</text>
<line x1="368.42" y1="585.10" x2="368.42" y2="587.80" stroke="#333" stroke-width="0.9"/>
<text x="370.92" y="593.50" text-anchor="end" fill="#222" stroke="#222" style="font-size:10.6px;stroke-width:0.18px" transform="rotate(-90 370.92 593.50)">AOCS-119-3-9</text>
<line x1="383.54" y1="585.10" x2="383.54" y2="587.80" stroke="#333" stroke-width="0.9"/>
<text x="386.04" y="593.50" text-anchor="end" fill="#222" stroke="#222" style="font-size:10.6px;stroke-width:0.18px" transform="rotate(-90 386.04 593.50)">AOCS-167-3-2</text>
<line x1="398.65" y1="585.10" x2="398.65" y2="587.80" stroke="#333" stroke-width="0.9"/>
<text x="401.15" y="593.50" text-anchor="end" fill="#222" stroke="#222" style="font-size:10.6px;stroke-width:0.18px" transform="rotate(-90 401.15 593.50)">AOCS-141-3-2</text>
<line x1="413.76" y1="585.10" x2="413.76" y2="587.80" stroke="#333" stroke-width="0.9"/>
<text x="416.26" y="593.50" text-anchor="end" fill="#222" stroke="#222" style="font-size:10.6px;stroke-width:0.18px" transform="rotate(-90 416.26 593.50)">AOCS-141-8-0</text>
<text x="8.80" y="535.90" text-anchor="middle" fill="#111" stroke="#111" style="font-size:10.8px;stroke-width:0.18px" transform="rotate(-90 8.80 535.90)">Number of SVs</text>
<text x="232.70" y="682.30" text-anchor="middle" fill="#111" stroke="#111" style="font-size:10.9px;stroke-width:0.18px">Recurrent samples from Patch et al</text>
<text x="428.80" y="508.90" text-anchor="start" fill="#111" stroke="#111" style="font-size:9.3px;stroke-width:0.18px">Fusion positive</text>
<rect x="428.40" y="514.40" width="9.40" height="8.70" fill="#4DBBD5"/>
<text x="440.90" y="522.80" text-anchor="start" fill="#111" stroke="#111" style="font-size:9.3px;stroke-width:0.18px">Inter-chromosomal SV</text>
<rect x="428.40" y="527.80" width="9.40" height="8.70" fill="#3C5488"/>
<text x="440.90" y="536.10" text-anchor="start" fill="#111" stroke="#111" style="font-size:9.3px;stroke-width:0.18px">Intra-chromosomal SV</text>
<text x="428.80" y="550.10" text-anchor="start" fill="#111" stroke="#111" style="font-size:9.3px;stroke-width:0.18px">Fusion negative</text>
<rect x="428.40" y="555.20" width="9.40" height="8.70" fill="#E64B35"/>
<text x="440.90" y="563.30" text-anchor="start" fill="#111" stroke="#111" style="font-size:9.3px;stroke-width:0.18px">Inter-chromosomal SV</text>
<rect x="428.40" y="569.10" width="9.40" height="8.70" fill="#00A087"/>
<text x="440.90" y="577.20" text-anchor="start" fill="#111" stroke="#111" style="font-size:9.3px;stroke-width:0.18px">Intra-chromosomal SV</text>
</svg>
</body></html>
